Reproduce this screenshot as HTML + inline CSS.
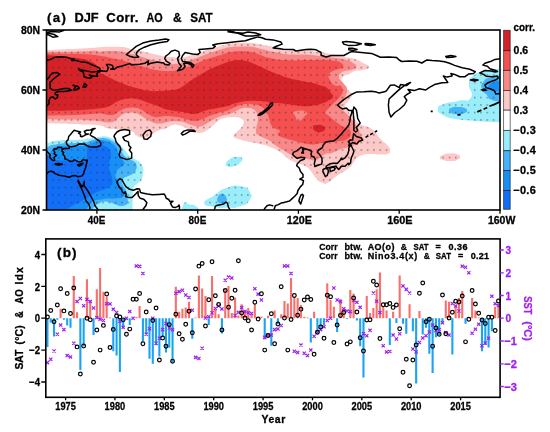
<!DOCTYPE html><html><head><meta charset="utf-8"><title>DJF Corr. AO &amp; SAT</title>
<style>html,body{margin:0;padding:0;background:#fff}svg{display:block}text{font-family:"Liberation Sans",sans-serif;font-weight:bold;stroke:#000;stroke-width:.3px}.p{fill:#A020F0;stroke:#A020F0}</style></head><body>
<svg width="550" height="432" viewBox="0 0 550 432">
<rect width="550" height="432" fill="#fff"/>
<defs>
<clipPath id="mapclip"><rect x="46.5" y="30.0" width="453.5" height="180.0"/></clipPath>
<clipPath id="sigclip"><path d="M28.0,50.2C33.3,25.8 30.0,50.6 44.0,50.2C58.0,49.8 54.7,49.7 70.0,49.0C85.3,48.3 80.0,48.6 90.0,48.0C100.0,47.4 93.0,47.6 100.0,47.2C107.0,46.8 103.7,46.8 111.0,46.8C118.3,46.8 116.4,46.7 121.8,47.1C127.2,47.5 123.7,47.2 127.3,47.9C130.9,48.6 129.1,48.5 132.7,49.3C136.3,50.1 134.6,49.7 138.2,50.4C141.8,51.1 140.0,50.7 143.6,51.5C147.2,52.3 145.4,52.0 149.0,52.9C152.6,53.8 150.8,53.3 154.5,54.2C158.2,55.1 156.7,54.8 160.0,55.5C163.3,56.2 160.7,55.9 164.4,56.4C168.1,56.9 167.0,56.6 171.0,56.9C175.0,57.2 172.8,57.2 176.4,57.4C180.0,57.6 178.2,57.7 181.8,57.4C185.4,57.1 183.7,57.3 187.3,56.4C190.9,55.5 189.1,55.9 192.7,54.7C196.3,53.5 194.6,54.2 198.2,52.9C201.8,51.6 200.0,52.1 203.6,50.9C207.2,49.7 205.4,50.3 209.0,49.3C212.6,48.3 210.8,48.9 214.5,47.9C218.2,46.9 216.3,47.4 220.0,46.3C223.7,45.2 221.8,45.6 225.5,44.7C229.2,43.8 227.4,44.1 231.0,43.6C234.6,43.1 232.8,43.4 236.4,43.1C240.0,42.8 238.2,42.9 241.8,42.8C245.4,42.7 243.7,42.7 247.3,42.8C250.9,42.9 249.1,42.7 252.7,43.1C256.3,43.5 254.6,43.3 258.2,43.9C261.8,44.5 260.0,44.2 263.6,44.9C267.2,45.6 265.4,45.3 269.0,46.0C272.6,46.7 270.8,46.3 274.5,46.9C278.2,47.5 276.5,47.0 280.0,47.9C283.5,48.8 280.0,48.9 285.0,49.6C290.0,50.3 288.3,49.9 295.0,50.0C301.7,50.1 298.3,49.5 305.0,50.0C311.7,50.5 308.3,50.6 315.0,51.6C321.7,52.6 318.3,51.9 325.0,53.0C331.7,54.1 328.3,53.7 335.0,55.0C341.7,56.3 338.3,55.7 345.0,57.0C351.7,58.3 349.0,57.0 355.0,59.0C361.0,61.0 358.3,60.3 363.0,63.0C367.7,65.7 369.0,64.7 369.0,67.0C369.0,69.3 367.7,68.7 363.0,70.0C358.3,71.3 359.7,69.7 355.0,71.0C350.3,72.3 353.0,72.0 349.0,74.0C345.0,76.0 345.3,74.3 343.0,77.0C340.7,79.7 341.3,78.7 342.0,82.0C342.7,85.3 342.7,84.0 345.0,87.0C347.3,90.0 346.7,88.3 349.0,91.0C351.3,93.7 352.0,92.0 352.0,95.0C352.0,98.0 351.3,96.3 349.0,100.0C346.7,103.7 345.7,102.7 345.0,106.0C344.3,109.3 344.7,106.7 347.0,110.0C349.3,113.3 348.7,112.0 352.0,116.0C355.3,120.0 353.3,118.8 357.0,122.0C360.7,125.2 359.0,123.7 363.0,125.5C367.0,127.3 365.0,125.3 369.0,127.5C373.0,129.7 371.2,128.2 375.0,132.0C378.8,135.8 376.2,134.3 380.5,139.0C384.8,143.7 384.8,142.0 388.0,146.0C391.2,150.0 390.3,148.3 390.0,151.0C389.7,153.7 390.7,152.9 387.0,154.0C383.3,155.1 384.3,154.4 379.0,154.4C373.7,154.4 376.3,153.8 371.0,154.0C365.7,154.2 367.7,153.7 363.0,155.0C358.3,156.3 360.3,155.3 357.0,158.0C353.7,160.7 355.7,159.7 353.0,163.0C350.3,166.3 354.0,164.0 349.0,168.0C344.0,172.0 345.0,170.2 338.0,175.0C331.0,179.8 333.3,179.9 328.0,182.4C322.7,184.9 326.0,183.9 322.0,182.4C318.0,180.9 320.0,182.1 316.0,178.0C312.0,173.9 313.7,174.0 310.0,170.0C306.3,166.0 308.3,168.0 305.0,166.0C301.7,164.0 304.3,165.7 300.0,164.0C295.7,162.3 296.7,163.3 292.0,161.0C287.3,158.7 290.0,160.0 286.0,157.0C282.0,154.0 285.3,155.3 280.0,152.0C274.7,148.7 276.7,149.7 270.0,147.0C263.3,144.3 266.7,145.7 260.0,144.0C253.3,142.3 256.7,143.5 250.0,142.0C243.3,140.5 245.3,141.2 240.0,139.5C234.7,137.8 235.9,138.6 234.0,137.0C232.1,135.4 233.1,136.6 234.2,134.7C235.3,132.8 235.0,133.8 237.4,131.4C239.8,129.0 239.3,130.1 241.3,127.6C243.3,125.1 242.7,126.2 243.4,123.8C244.1,121.4 244.3,122.3 243.4,120.5C242.5,118.7 243.0,119.5 240.7,118.4C238.4,117.3 239.6,117.7 236.4,117.3C233.2,116.9 234.6,117.1 231.0,117.3C227.4,117.5 229.2,117.1 225.5,117.8C221.8,118.5 222.6,118.3 220.0,119.5C217.4,120.7 219.6,119.8 217.8,121.3C216.0,122.8 217.0,121.8 214.5,124.0C212.0,126.2 213.1,125.5 210.2,127.8C207.3,130.1 208.7,129.4 205.8,131.0C202.9,132.6 204.3,132.1 201.4,132.7C198.5,133.3 199.9,133.3 197.0,132.7C194.1,132.1 195.9,132.4 192.7,131.0C189.5,129.6 190.9,130.0 187.3,128.4C183.7,126.8 185.1,127.3 181.8,126.2C178.5,125.1 180.3,125.4 177.4,125.0C174.5,124.6 175.9,124.4 173.0,125.0C170.1,125.6 171.6,125.4 168.7,126.7C165.8,128.0 167.3,128.0 164.4,129.0C161.5,130.0 163.3,128.6 160.0,129.8C156.7,131.0 157.4,131.0 154.5,132.7C151.6,134.4 153.8,133.6 151.3,135.0C148.8,136.4 149.9,136.1 147.0,137.0C144.1,137.9 145.1,137.8 142.5,137.8C139.9,137.8 141.5,137.9 139.3,137.0C137.1,136.1 138.2,136.7 136.0,135.0C133.8,133.3 135.7,133.4 132.7,131.8C129.7,130.2 130.6,131.0 127.0,130.3C123.4,129.6 125.3,130.1 121.8,129.8C118.3,129.5 120.0,129.6 116.4,129.3C112.8,129.0 114.6,129.3 111.0,128.8C107.4,128.3 109.2,128.8 105.5,127.7C101.8,126.6 106.8,126.5 100.0,125.5C93.2,124.5 95.0,125.1 85.0,124.6C75.0,124.1 80.0,124.4 70.0,124.0C60.0,123.6 63.7,123.7 55.0,123.5C46.3,123.3 53.0,123.4 44.0,123.3C35.0,123.2 33.3,147.7 28.0,123.3C22.7,98.9 22.7,74.6 28.0,50.2Z"/><path d="M440.0,157.5C440.3,155.7 440.7,155.8 444.0,154.5C447.3,153.2 446.0,153.7 450.0,153.5C454.0,153.3 452.7,153.0 456.0,154.0C459.3,155.0 459.7,154.5 460.0,156.5C460.3,158.5 460.3,158.5 457.0,160.0C453.7,161.5 454.7,161.0 450.0,161.0C445.3,161.0 446.3,161.2 443.0,160.0C439.7,158.8 439.7,159.3 440.0,157.5Z"/><path d="M28.0,143.5C33.3,116.0 37.5,143.6 44.0,143.5C50.5,143.4 45.3,143.8 47.6,143.2C49.9,142.6 48.2,142.5 51.0,141.7C53.8,140.9 52.3,141.2 56.0,140.7C59.7,140.2 56.3,140.5 62.0,140.2C67.7,139.9 65.7,140.2 73.0,139.9C80.3,139.6 78.3,139.8 84.0,139.4C89.7,139.0 86.3,139.1 90.0,138.6C93.7,138.1 91.5,138.4 95.0,137.8C98.5,137.2 96.8,137.1 100.5,136.7C104.2,136.3 102.4,136.1 106.0,136.6C109.6,137.1 107.8,136.7 111.4,138.3C115.0,139.9 113.2,138.6 116.8,141.5C120.4,144.4 119.0,143.4 122.3,147.0C125.6,150.6 123.7,149.1 126.6,152.4C129.5,155.7 127.7,154.3 131.0,156.8C134.3,159.3 133.1,157.8 136.4,160.0C139.7,162.2 138.6,160.8 140.8,163.4C143.0,166.0 142.3,164.4 143.0,167.7C143.7,171.0 143.4,169.6 143.0,173.2C142.6,176.8 142.6,176.0 141.9,178.6C141.2,181.2 142.3,179.4 140.8,181.0C139.3,182.6 139.7,181.7 137.5,183.5C135.3,185.3 135.8,184.3 134.3,186.5C132.8,188.7 133.6,185.5 133.0,190.0C132.4,194.5 132.7,192.7 132.6,200.0C132.5,207.3 132.4,203.3 132.8,212.0C133.2,220.7 168.7,221.3 133.8,226.0C98.9,230.7 63.3,253.5 28.0,226.0C-7.3,198.5 22.7,171.0 28.0,143.5Z"/><path d="M226.0,164.0C226.7,161.5 226.7,161.3 230.0,159.0C233.3,156.7 232.0,157.3 236.0,157.0C240.0,156.7 240.7,156.0 242.0,158.0C243.3,160.0 242.7,160.3 240.0,163.0C237.3,165.7 238.0,164.9 234.0,166.0C230.0,167.1 230.7,167.1 228.0,166.4C225.3,165.7 225.3,166.5 226.0,164.0Z"/><path d="M204.5,203.0C204.5,199.1 207.0,200.3 214.5,195.2C222.0,190.2 217.8,190.7 227.0,187.8C236.2,184.8 234.5,185.2 242.0,186.5C249.5,187.8 247.0,186.9 249.5,191.5C252.0,196.1 252.8,195.2 249.5,200.2C246.2,205.2 247.0,204.0 239.5,206.5C232.0,209.0 235.3,207.6 227.0,207.8C218.7,207.9 222.0,208.6 214.5,207.0C207.0,205.4 204.5,206.9 204.5,203.0Z"/><path d="M179.0,212.0C172.3,212.0 178.7,228.2 180.0,226.0C181.3,223.8 179.7,212.7 183.0,205.5C186.3,198.3 185.3,204.0 190.0,204.5C194.7,205.0 194.0,204.5 197.0,207.0C200.0,209.5 198.0,205.7 199.0,212.0C200.0,218.3 206.7,226.0 200.0,226.0C193.3,226.0 185.7,212.0 179.0,212.0Z"/><path d="M516.0,68.7C511.3,50.8 512.2,67.9 502.0,68.7C491.8,69.5 495.2,68.6 485.5,71.0C475.8,73.4 478.5,71.7 473.0,76.0C467.5,80.3 469.7,76.8 469.0,84.0C468.3,91.2 474.7,91.8 471.0,97.5C467.3,103.2 467.0,98.8 458.0,101.0C449.0,103.2 450.7,101.3 444.0,104.0C437.3,106.7 438.3,105.3 438.0,109.0C437.7,112.7 437.2,111.7 443.0,115.0C448.8,118.3 444.7,117.0 455.5,119.0C466.3,121.0 460.0,119.8 475.5,121.0C491.0,122.2 488.5,122.0 502.0,122.5C515.5,123.0 511.3,140.4 516.0,122.5C520.7,104.6 520.7,86.6 516.0,68.7Z"/></clipPath>
<pattern id="dots" x="45.600" y="29.250" width="6.2986" height="7.5000" patternUnits="userSpaceOnUse"><rect x="0" y="0" width="1.5" height="1.5" fill="#2a2a2a" fill-opacity="0.5"/></pattern>
</defs>
<g clip-path="url(#mapclip)">
<path d="M28.0,50.2C33.3,25.8 30.0,50.6 44.0,50.2C58.0,49.8 54.7,49.7 70.0,49.0C85.3,48.3 80.0,48.6 90.0,48.0C100.0,47.4 93.0,47.6 100.0,47.2C107.0,46.8 103.7,46.8 111.0,46.8C118.3,46.8 116.4,46.7 121.8,47.1C127.2,47.5 123.7,47.2 127.3,47.9C130.9,48.6 129.1,48.5 132.7,49.3C136.3,50.1 134.6,49.7 138.2,50.4C141.8,51.1 140.0,50.7 143.6,51.5C147.2,52.3 145.4,52.0 149.0,52.9C152.6,53.8 150.8,53.3 154.5,54.2C158.2,55.1 156.7,54.8 160.0,55.5C163.3,56.2 160.7,55.9 164.4,56.4C168.1,56.9 167.0,56.6 171.0,56.9C175.0,57.2 172.8,57.2 176.4,57.4C180.0,57.6 178.2,57.7 181.8,57.4C185.4,57.1 183.7,57.3 187.3,56.4C190.9,55.5 189.1,55.9 192.7,54.7C196.3,53.5 194.6,54.2 198.2,52.9C201.8,51.6 200.0,52.1 203.6,50.9C207.2,49.7 205.4,50.3 209.0,49.3C212.6,48.3 210.8,48.9 214.5,47.9C218.2,46.9 216.3,47.4 220.0,46.3C223.7,45.2 221.8,45.6 225.5,44.7C229.2,43.8 227.4,44.1 231.0,43.6C234.6,43.1 232.8,43.4 236.4,43.1C240.0,42.8 238.2,42.9 241.8,42.8C245.4,42.7 243.7,42.7 247.3,42.8C250.9,42.9 249.1,42.7 252.7,43.1C256.3,43.5 254.6,43.3 258.2,43.9C261.8,44.5 260.0,44.2 263.6,44.9C267.2,45.6 265.4,45.3 269.0,46.0C272.6,46.7 270.8,46.3 274.5,46.9C278.2,47.5 276.5,47.0 280.0,47.9C283.5,48.8 280.0,48.9 285.0,49.6C290.0,50.3 288.3,49.9 295.0,50.0C301.7,50.1 298.3,49.5 305.0,50.0C311.7,50.5 308.3,50.6 315.0,51.6C321.7,52.6 318.3,51.9 325.0,53.0C331.7,54.1 328.3,53.7 335.0,55.0C341.7,56.3 338.3,55.7 345.0,57.0C351.7,58.3 349.0,57.0 355.0,59.0C361.0,61.0 358.3,60.3 363.0,63.0C367.7,65.7 369.0,64.7 369.0,67.0C369.0,69.3 367.7,68.7 363.0,70.0C358.3,71.3 359.7,69.7 355.0,71.0C350.3,72.3 353.0,72.0 349.0,74.0C345.0,76.0 345.3,74.3 343.0,77.0C340.7,79.7 341.3,78.7 342.0,82.0C342.7,85.3 342.7,84.0 345.0,87.0C347.3,90.0 346.7,88.3 349.0,91.0C351.3,93.7 352.0,92.0 352.0,95.0C352.0,98.0 351.3,96.3 349.0,100.0C346.7,103.7 345.7,102.7 345.0,106.0C344.3,109.3 344.7,106.7 347.0,110.0C349.3,113.3 348.7,112.0 352.0,116.0C355.3,120.0 353.3,118.8 357.0,122.0C360.7,125.2 359.0,123.7 363.0,125.5C367.0,127.3 365.0,125.3 369.0,127.5C373.0,129.7 371.2,128.2 375.0,132.0C378.8,135.8 376.2,134.3 380.5,139.0C384.8,143.7 384.8,142.0 388.0,146.0C391.2,150.0 390.3,148.3 390.0,151.0C389.7,153.7 390.7,152.9 387.0,154.0C383.3,155.1 384.3,154.4 379.0,154.4C373.7,154.4 376.3,153.8 371.0,154.0C365.7,154.2 367.7,153.7 363.0,155.0C358.3,156.3 360.3,155.3 357.0,158.0C353.7,160.7 355.7,159.7 353.0,163.0C350.3,166.3 354.0,164.0 349.0,168.0C344.0,172.0 345.0,170.2 338.0,175.0C331.0,179.8 333.3,179.9 328.0,182.4C322.7,184.9 326.0,183.9 322.0,182.4C318.0,180.9 320.0,182.1 316.0,178.0C312.0,173.9 313.7,174.0 310.0,170.0C306.3,166.0 308.3,168.0 305.0,166.0C301.7,164.0 304.3,165.7 300.0,164.0C295.7,162.3 296.7,163.3 292.0,161.0C287.3,158.7 290.0,160.0 286.0,157.0C282.0,154.0 285.3,155.3 280.0,152.0C274.7,148.7 276.7,149.7 270.0,147.0C263.3,144.3 266.7,145.7 260.0,144.0C253.3,142.3 256.7,143.5 250.0,142.0C243.3,140.5 245.3,141.2 240.0,139.5C234.7,137.8 235.9,138.6 234.0,137.0C232.1,135.4 233.1,136.6 234.2,134.7C235.3,132.8 235.0,133.8 237.4,131.4C239.8,129.0 239.3,130.1 241.3,127.6C243.3,125.1 242.7,126.2 243.4,123.8C244.1,121.4 244.3,122.3 243.4,120.5C242.5,118.7 243.0,119.5 240.7,118.4C238.4,117.3 239.6,117.7 236.4,117.3C233.2,116.9 234.6,117.1 231.0,117.3C227.4,117.5 229.2,117.1 225.5,117.8C221.8,118.5 222.6,118.3 220.0,119.5C217.4,120.7 219.6,119.8 217.8,121.3C216.0,122.8 217.0,121.8 214.5,124.0C212.0,126.2 213.1,125.5 210.2,127.8C207.3,130.1 208.7,129.4 205.8,131.0C202.9,132.6 204.3,132.1 201.4,132.7C198.5,133.3 199.9,133.3 197.0,132.7C194.1,132.1 195.9,132.4 192.7,131.0C189.5,129.6 190.9,130.0 187.3,128.4C183.7,126.8 185.1,127.3 181.8,126.2C178.5,125.1 180.3,125.4 177.4,125.0C174.5,124.6 175.9,124.4 173.0,125.0C170.1,125.6 171.6,125.4 168.7,126.7C165.8,128.0 167.3,128.0 164.4,129.0C161.5,130.0 163.3,128.6 160.0,129.8C156.7,131.0 157.4,131.0 154.5,132.7C151.6,134.4 153.8,133.6 151.3,135.0C148.8,136.4 149.9,136.1 147.0,137.0C144.1,137.9 145.1,137.8 142.5,137.8C139.9,137.8 141.5,137.9 139.3,137.0C137.1,136.1 138.2,136.7 136.0,135.0C133.8,133.3 135.7,133.4 132.7,131.8C129.7,130.2 130.6,131.0 127.0,130.3C123.4,129.6 125.3,130.1 121.8,129.8C118.3,129.5 120.0,129.6 116.4,129.3C112.8,129.0 114.6,129.3 111.0,128.8C107.4,128.3 109.2,128.8 105.5,127.7C101.8,126.6 106.8,126.5 100.0,125.5C93.2,124.5 95.0,125.1 85.0,124.6C75.0,124.1 80.0,124.4 70.0,124.0C60.0,123.6 63.7,123.7 55.0,123.5C46.3,123.3 53.0,123.4 44.0,123.3C35.0,123.2 33.3,147.7 28.0,123.3C22.7,98.9 22.7,74.6 28.0,50.2Z" fill="#FDC8C8"/>
<path d="M440.0,157.5C440.3,155.7 440.7,155.8 444.0,154.5C447.3,153.2 446.0,153.7 450.0,153.5C454.0,153.3 452.7,153.0 456.0,154.0C459.3,155.0 459.7,154.5 460.0,156.5C460.3,158.5 460.3,158.5 457.0,160.0C453.7,161.5 454.7,161.0 450.0,161.0C445.3,161.0 446.3,161.2 443.0,160.0C439.7,158.8 439.7,159.3 440.0,157.5Z" fill="#FDC8C8"/>
<path d="M28.0,51.9C33.3,29.4 31.7,51.9 44.0,51.9C56.3,51.9 52.3,51.9 65.0,51.8C77.7,51.7 72.0,51.9 82.0,51.6C92.0,51.3 89.0,50.8 95.0,50.8C101.0,50.8 94.7,51.4 100.0,51.5C105.3,51.6 103.7,51.0 111.0,51.1C118.3,51.2 116.4,51.2 121.8,51.8C127.2,52.4 123.7,52.1 127.3,52.9C130.9,53.7 129.1,53.2 132.7,54.2C136.3,55.2 134.6,54.7 138.2,55.8C141.8,56.9 140.0,56.3 143.6,57.4C147.2,58.5 145.4,58.1 149.0,59.1C152.6,60.1 150.8,59.7 154.5,60.5C158.2,61.3 156.3,60.6 160.0,61.4C163.7,62.2 161.8,62.1 165.5,62.9C169.2,63.7 167.4,63.5 171.0,63.8C174.6,64.1 172.8,64.1 176.4,63.8C180.0,63.5 178.2,63.7 181.8,62.9C185.4,62.1 183.7,62.5 187.3,61.3C190.9,60.1 189.1,60.7 192.7,59.4C196.3,58.1 194.6,58.8 198.2,57.4C201.8,56.0 200.0,56.7 203.6,55.3C207.2,53.9 205.4,54.6 209.0,53.3C212.6,52.0 210.8,52.7 214.5,51.5C218.2,50.3 216.3,50.8 220.0,49.7C223.7,48.6 221.8,49.1 225.5,48.2C229.2,47.3 227.4,47.6 231.0,47.1C234.6,46.6 232.8,46.9 236.4,46.7C240.0,46.5 238.2,46.4 241.8,46.4C245.4,46.4 243.7,46.4 247.3,46.6C250.9,46.8 249.1,46.6 252.7,47.1C256.3,47.6 254.6,47.4 258.2,48.2C261.8,49.0 260.0,48.7 263.6,49.6C267.2,50.5 265.4,50.2 269.0,51.0C272.6,51.8 270.8,51.5 274.5,52.1C278.2,52.7 276.5,52.3 280.0,52.9C283.5,53.5 280.0,53.4 285.0,54.0C290.0,54.6 288.3,54.4 295.0,54.6C301.7,54.8 298.3,54.3 305.0,54.6C311.7,54.9 308.3,54.7 315.0,55.4C321.7,56.1 318.3,55.7 325.0,56.6C331.7,57.5 328.3,57.0 335.0,58.0C341.7,59.0 339.0,57.9 345.0,59.6C351.0,61.3 349.3,60.5 353.0,63.0C356.7,65.5 356.7,64.7 356.0,67.0C355.3,69.3 354.7,68.7 351.0,70.0C347.3,71.3 348.3,70.0 345.0,71.0C341.7,72.0 343.0,71.0 341.0,73.0C339.0,75.0 339.0,74.3 339.0,77.0C339.0,79.7 339.3,78.7 341.0,81.0C342.7,83.3 342.0,81.3 344.0,84.0C346.0,86.7 346.3,85.3 347.0,89.0C347.7,92.7 347.3,91.3 346.0,95.0C344.7,98.7 344.8,96.9 343.0,100.0C341.2,103.1 341.2,101.5 340.7,104.4C340.2,107.3 340.2,106.2 341.6,108.7C343.0,111.2 342.7,109.8 344.9,112.0C347.1,114.2 346.0,113.1 348.2,115.3C350.4,117.5 349.6,116.3 351.4,118.5C353.2,120.7 352.1,119.6 353.6,121.8C355.1,124.0 354.3,122.7 355.8,125.0C357.3,127.3 356.6,126.1 358.0,128.6C359.4,131.1 358.8,129.9 360.0,132.5C361.2,135.1 360.7,133.8 361.5,136.5C362.3,139.2 363.8,138.2 362.5,140.5C361.2,142.8 361.1,141.6 357.5,143.5C353.9,145.4 355.5,144.8 351.8,146.2C348.1,147.6 350.0,146.9 346.4,147.8C342.8,148.7 344.5,147.7 340.9,149.0C337.3,150.3 339.1,150.1 335.5,151.6C331.9,153.1 333.3,152.7 330.0,153.5C326.7,154.3 329.3,152.3 325.6,154.0C321.9,155.7 322.9,156.3 319.0,158.5C315.1,160.7 317.3,160.2 314.0,160.5C310.7,160.8 312.8,160.0 309.0,159.3C305.2,158.6 307.0,158.9 302.7,158.3C298.4,157.7 300.4,158.9 296.0,157.5C291.6,156.1 293.9,156.5 289.6,154.0C285.3,151.5 287.4,152.7 283.0,150.0C278.6,147.3 280.8,149.0 276.5,146.0C272.2,143.0 274.8,144.0 270.0,141.0C265.2,138.0 266.2,139.2 262.0,137.0C257.8,134.8 259.5,136.4 257.5,134.5C255.5,132.6 256.3,133.9 256.0,131.4C255.7,128.9 256.0,130.3 256.5,127.0C257.0,123.7 257.2,125.2 257.6,121.6C258.0,118.0 258.1,119.5 257.6,116.2C257.1,112.9 257.6,114.2 256.0,111.8C254.4,109.4 255.6,110.3 252.7,109.0C249.8,107.7 250.9,108.2 247.3,108.0C243.7,107.8 245.4,107.6 241.8,108.5C238.2,109.4 240.0,109.1 236.4,110.7C232.8,112.3 234.6,112.0 231.0,113.4C227.4,114.8 229.2,114.0 225.5,115.0C221.8,116.0 223.7,115.2 220.0,116.5C216.3,117.8 217.8,117.4 214.5,119.0C211.2,120.6 213.1,119.6 210.2,121.3C207.3,123.0 208.7,122.4 205.8,124.0C202.9,125.6 204.3,125.3 201.4,126.2C198.5,127.1 199.9,126.9 197.0,126.7C194.1,126.5 195.9,126.7 192.7,125.6C189.5,124.5 190.9,124.7 187.3,123.4C183.7,122.1 185.4,122.5 181.8,121.8C178.2,121.1 180.0,121.5 176.4,121.3C172.8,121.1 174.6,120.9 171.0,121.3C167.4,121.7 169.2,121.6 165.5,122.4C161.8,123.2 163.7,123.4 160.0,123.6C156.3,123.8 158.2,123.9 154.5,122.9C150.8,121.9 152.3,122.3 149.0,120.6C145.7,118.9 147.6,119.7 144.7,117.9C141.8,116.1 143.5,116.8 140.3,115.2C137.1,113.6 138.6,113.8 135.0,113.0C131.4,112.2 133.1,112.4 129.4,112.7C125.7,113.0 127.3,112.4 124.0,113.8C120.7,115.2 122.5,114.6 119.6,116.8C116.7,119.0 118.2,118.6 115.3,120.4C112.4,122.2 114.3,121.7 111.0,122.3C107.7,122.9 109.2,122.7 105.5,122.3C101.8,121.9 106.8,121.9 100.0,121.2C93.2,120.5 95.0,120.7 85.0,120.2C75.0,119.7 80.0,119.9 70.0,119.6C60.0,119.3 63.7,119.5 55.0,119.4C46.3,119.3 53.0,119.4 44.0,119.4C35.0,119.4 33.3,141.9 28.0,119.4C22.7,96.9 22.7,74.4 28.0,51.9Z" fill="#F98888"/>
<path d="M28.0,53.6C33.3,33.0 31.7,53.5 44.0,53.6C56.3,53.7 51.3,53.6 65.0,53.8C78.7,54.0 73.3,53.6 85.0,54.3C96.7,55.0 91.3,54.6 100.0,55.8C108.7,57.0 103.7,56.5 111.0,58.0C118.3,59.5 116.4,58.9 121.8,60.2C127.2,61.5 123.7,60.7 127.3,61.8C130.9,62.9 129.1,62.2 132.7,63.4C136.3,64.6 134.6,64.1 138.2,65.3C141.8,66.5 140.0,65.9 143.6,67.0C147.2,68.1 145.4,67.7 149.0,68.6C152.6,69.5 150.8,69.1 154.5,69.7C158.2,70.3 156.3,70.0 160.0,70.5C163.7,71.0 161.8,70.9 165.5,71.1C169.2,71.3 167.4,71.4 171.0,71.1C174.6,70.8 172.8,71.0 176.4,70.3C180.0,69.6 178.2,70.0 181.8,68.9C185.4,67.8 183.7,68.3 187.3,67.0C190.9,65.7 189.1,66.3 192.7,64.9C196.3,63.5 194.6,64.2 198.2,62.7C201.8,61.2 200.0,61.9 203.6,60.5C207.2,59.1 205.4,59.7 209.0,58.5C212.6,57.3 210.8,58.0 214.5,56.9C218.2,55.8 216.3,56.4 220.0,55.3C223.7,54.2 221.8,54.6 225.5,53.5C229.2,52.4 227.4,52.8 231.0,52.1C234.6,51.4 232.8,51.8 236.4,51.5C240.0,51.2 238.2,51.3 241.8,51.3C245.4,51.3 243.7,51.1 247.3,51.5C250.9,51.9 249.1,51.6 252.7,52.4C256.3,53.2 254.6,52.7 258.2,54.0C261.8,55.3 260.0,54.9 263.6,56.2C267.2,57.5 265.4,56.8 269.0,57.8C272.6,58.8 270.8,58.4 274.5,59.1C278.2,59.8 276.5,59.7 280.0,60.0C283.5,60.3 280.0,59.9 285.0,60.0C290.0,60.1 288.3,60.4 295.0,60.4C301.7,60.4 298.3,60.1 305.0,60.0C311.7,59.9 308.3,60.0 315.0,60.0C321.7,60.0 318.3,59.7 325.0,60.0C331.7,60.3 329.7,60.0 335.0,61.0C340.3,62.0 338.3,61.0 341.0,63.0C343.7,65.0 343.7,65.0 343.0,67.0C342.3,69.0 342.3,67.7 339.0,69.0C335.7,70.3 336.3,69.0 333.0,71.0C329.7,73.0 330.0,72.0 329.0,75.0C328.0,78.0 328.7,77.0 330.0,80.0C331.3,83.0 330.7,82.0 333.0,84.0C335.3,86.0 334.5,85.5 337.0,86.0C339.5,86.5 338.6,83.8 340.4,85.5C342.2,87.2 342.3,87.7 342.5,91.0C342.7,94.3 342.7,92.4 341.0,95.3C339.3,98.2 340.0,96.9 337.5,99.6C335.0,102.3 336.2,100.9 333.5,103.5C330.8,106.1 331.9,105.0 329.5,107.5C327.1,110.0 327.6,109.3 326.3,111.0C325.0,112.7 325.3,111.5 325.5,112.7C325.7,113.9 325.6,113.3 327.0,114.5C328.4,115.7 327.3,114.5 329.6,116.4C331.9,118.3 331.1,117.9 334.0,120.2C336.9,122.5 335.5,121.4 338.4,123.4C341.3,125.4 339.8,124.5 342.7,126.2C345.6,127.9 344.7,127.4 347.0,128.6C349.3,129.8 348.4,127.9 349.6,129.8C350.8,131.7 351.1,131.5 350.7,134.2C350.3,136.9 350.7,136.0 348.5,138.0C346.3,140.0 347.1,139.2 344.2,140.2C341.3,141.2 342.7,140.5 339.8,140.9C336.9,141.3 339.4,141.0 335.5,141.5C331.6,142.0 333.5,141.6 328.0,142.3C322.5,143.0 324.7,142.8 319.0,143.5C313.3,144.2 316.3,144.6 311.0,144.4C305.7,144.2 308.3,144.1 303.0,143.0C297.7,141.9 300.7,142.5 295.0,141.0C289.3,139.5 291.7,140.8 286.0,138.6C280.3,136.4 280.0,137.0 278.0,134.5C276.0,132.0 281.2,133.1 280.0,131.0C278.8,128.9 277.4,130.2 274.5,128.2C271.6,126.2 272.9,127.6 271.3,125.0C269.7,122.4 270.7,123.8 269.6,120.5C268.5,117.2 269.3,118.3 268.0,115.0C266.7,111.7 267.6,113.2 265.8,110.7C264.0,108.2 265.0,109.2 262.5,107.4C260.0,105.6 261.5,106.4 258.2,105.3C254.9,104.2 256.3,104.6 252.7,104.2C249.1,103.8 250.9,103.8 247.3,104.0C243.7,104.2 245.4,103.9 241.8,104.7C238.2,105.5 240.0,105.0 236.4,106.4C232.8,107.8 234.6,107.4 231.0,109.0C227.4,110.6 229.2,110.1 225.5,111.3C221.8,112.5 222.9,111.8 220.0,112.6C217.1,113.4 219.6,112.7 216.7,113.6C213.8,114.5 214.9,114.0 211.3,115.3C207.7,116.6 209.1,116.0 205.8,117.4C202.5,118.8 204.3,118.5 201.4,119.6C198.5,120.7 199.9,120.3 197.0,120.7C194.1,121.1 195.9,121.1 192.7,120.7C189.5,120.3 190.9,120.5 187.3,119.6C183.7,118.7 185.4,118.9 181.8,118.0C178.2,117.1 180.0,117.5 176.4,117.0C172.8,116.5 174.6,116.7 171.0,116.4C167.4,116.1 169.2,115.9 165.5,116.0C161.8,116.1 163.7,116.5 160.0,116.8C156.3,117.1 158.2,117.6 154.5,116.9C150.8,116.2 152.3,116.3 149.0,114.6C145.7,112.9 147.6,113.7 144.7,111.9C141.8,110.1 143.5,110.7 140.3,109.3C137.1,107.9 138.6,108.3 135.0,107.8C131.4,107.3 133.1,107.4 129.4,107.8C125.7,108.2 127.3,107.8 124.0,108.9C120.7,110.0 122.5,109.4 119.6,111.1C116.7,112.8 118.2,112.8 115.3,114.1C112.4,115.4 114.3,114.8 111.0,115.0C107.7,115.2 109.2,115.1 105.5,114.6C101.8,114.1 106.8,113.6 100.0,113.6C93.2,113.6 95.0,114.0 85.0,114.5C75.0,115.0 80.0,114.9 70.0,115.2C60.0,115.5 63.7,115.3 55.0,115.4C46.3,115.5 53.0,115.4 44.0,115.4C35.0,115.4 33.3,136.0 28.0,115.4C22.7,94.8 22.7,74.2 28.0,53.6Z" fill="#F54F4F"/>
<path d="M294.5,111.6C298.0,110.1 303.0,110.1 306.0,112.0C309.0,113.9 306.0,114.5 303.5,117.4C301.0,120.3 301.3,120.9 298.6,120.6C295.9,120.3 296.8,119.5 295.4,116.5C294.0,113.5 291.0,113.1 294.5,111.6Z" fill="#F98888"/>
<path d="M28.0,55.3C33.3,36.8 32.7,54.9 44.0,55.3C55.3,55.7 52.2,55.7 61.8,56.4C71.4,57.1 65.4,56.5 72.7,57.4C80.0,58.3 77.8,57.7 83.6,59.0C89.4,60.3 86.4,59.8 90.0,61.3C93.6,62.8 92.0,61.5 94.5,63.4C97.0,65.3 95.7,64.1 97.5,67.0C99.3,69.9 97.3,69.4 100.0,72.2C102.7,75.0 101.8,73.4 105.5,75.4C109.2,77.4 107.4,76.4 111.0,78.2C114.6,80.0 112.8,79.3 116.4,80.9C120.0,82.5 118.2,81.5 121.8,83.0C125.4,84.5 123.7,84.0 127.3,85.3C130.9,86.6 128.5,85.8 132.7,87.0C136.9,88.2 134.6,87.7 140.0,89.0C145.4,90.3 142.7,90.1 149.0,90.8C155.3,91.5 152.3,91.2 159.0,91.0C165.7,90.8 163.3,90.8 169.0,90.3C174.7,89.8 171.7,90.6 176.0,89.5C180.3,88.4 178.0,89.2 181.8,87.0C185.6,84.8 183.7,85.6 187.3,83.0C190.9,80.4 189.1,81.6 192.7,79.3C196.3,77.0 194.6,78.2 198.2,76.0C201.8,73.8 200.0,74.8 203.6,72.7C207.2,70.6 205.4,71.5 209.0,69.7C212.6,67.9 210.8,68.9 214.5,67.3C218.2,65.7 216.3,66.5 220.0,65.0C223.7,63.5 221.8,64.0 225.5,62.7C229.2,61.4 227.4,61.9 231.0,61.1C234.6,60.3 232.8,60.5 236.4,60.2C240.0,59.9 238.2,59.8 241.8,60.2C245.4,60.6 243.7,60.3 247.3,61.3C250.9,62.3 249.1,61.8 252.7,63.3C256.3,64.8 254.6,64.1 258.2,65.7C261.8,67.3 260.0,66.5 263.6,68.2C267.2,69.9 265.4,69.1 269.0,70.7C272.6,72.3 270.8,71.5 274.5,72.9C278.2,74.3 276.3,73.6 280.0,75.0C283.7,76.4 281.8,75.9 285.5,77.1C289.2,78.3 287.4,77.8 291.0,78.7C294.6,79.6 292.8,79.1 296.4,79.8C300.0,80.5 298.2,80.2 301.8,80.9C305.4,81.6 303.7,81.3 307.3,82.0C310.9,82.7 309.1,82.2 312.7,83.1C316.3,84.0 314.6,83.6 318.2,84.7C321.8,85.8 320.7,85.2 323.6,86.3C326.5,87.4 324.5,85.8 327.0,88.0C329.5,90.2 329.0,90.0 331.0,93.0C333.0,96.0 333.9,94.5 333.0,97.0C332.1,99.5 332.1,98.3 328.4,100.5C324.7,102.7 326.9,101.9 321.8,103.6C316.7,105.3 318.4,104.7 313.0,105.6C307.6,106.5 309.8,106.1 305.5,106.2C301.2,106.3 303.5,106.1 300.0,105.8C296.5,105.5 298.3,105.6 295.0,105.2C291.7,104.8 295.0,105.2 290.0,104.6C285.0,104.0 285.2,103.9 280.0,103.3C274.8,102.7 278.2,103.3 274.5,102.9C270.8,102.5 272.6,102.7 269.0,102.2C265.4,101.7 267.2,101.9 263.6,101.5C260.0,101.1 261.8,101.3 258.2,101.0C254.6,100.7 256.3,100.7 252.7,100.7C249.1,100.7 250.9,100.6 247.3,101.0C243.7,101.4 245.4,101.1 241.8,101.8C238.2,102.5 240.0,102.0 236.4,103.0C232.8,104.0 234.6,103.6 231.0,104.7C227.4,105.8 229.2,105.5 225.5,106.4C221.8,107.3 222.9,106.9 220.0,107.5C217.1,108.1 219.6,107.6 216.7,108.2C213.8,108.8 214.9,108.6 211.3,109.3C207.7,110.0 209.1,109.5 205.8,110.4C202.5,111.3 204.3,110.9 201.4,112.0C198.5,113.1 199.9,112.9 197.0,113.6C194.1,114.3 195.9,114.2 192.7,114.0C189.5,113.8 190.9,113.7 187.3,113.0C183.7,112.3 185.4,112.6 181.8,112.0C178.2,111.4 180.0,111.7 176.4,111.2C172.8,110.7 174.6,111.0 171.0,110.4C167.4,109.8 169.2,110.4 165.5,109.3C161.8,108.2 163.7,108.5 160.0,107.0C156.3,105.5 158.2,106.0 154.5,104.7C150.8,103.4 152.6,104.3 149.0,103.0C145.4,101.7 147.2,102.1 143.6,100.9C140.0,99.7 141.8,100.1 138.2,99.3C134.6,98.5 136.3,98.7 132.7,98.5C129.1,98.3 130.9,98.3 127.3,98.7C123.7,99.1 125.4,98.7 121.8,99.8C118.2,100.9 120.0,100.2 116.4,102.0C112.8,103.8 114.6,103.5 111.0,105.3C107.4,107.1 109.2,106.4 105.5,107.4C101.8,108.4 106.8,107.5 100.0,108.3C93.2,109.1 95.0,109.1 85.0,109.8C75.0,110.5 80.0,110.2 70.0,110.5C60.0,110.8 63.7,110.6 55.0,110.7C46.3,110.8 53.0,110.8 44.0,110.8C35.0,110.8 33.3,129.3 28.0,110.8C22.7,92.3 22.7,73.8 28.0,55.3Z" fill="#D52228"/>
<path d="M313.0,127.0C313.3,124.8 313.7,125.3 317.0,125.0C320.3,124.7 320.3,124.7 323.0,126.0C325.7,127.3 325.7,127.0 325.0,129.0C324.3,131.0 324.0,131.1 321.0,132.0C318.0,132.9 318.7,133.3 316.0,131.6C313.3,129.9 312.7,129.2 313.0,127.0Z" fill="#D52228"/>
<path d="M28.0,143.5C33.3,116.0 37.5,143.6 44.0,143.5C50.5,143.4 45.3,143.8 47.6,143.2C49.9,142.6 48.2,142.5 51.0,141.7C53.8,140.9 52.3,141.2 56.0,140.7C59.7,140.2 56.3,140.5 62.0,140.2C67.7,139.9 65.7,140.2 73.0,139.9C80.3,139.6 78.3,139.8 84.0,139.4C89.7,139.0 86.3,139.1 90.0,138.6C93.7,138.1 91.5,138.4 95.0,137.8C98.5,137.2 96.8,137.1 100.5,136.7C104.2,136.3 102.4,136.1 106.0,136.6C109.6,137.1 107.8,136.7 111.4,138.3C115.0,139.9 113.2,138.6 116.8,141.5C120.4,144.4 119.0,143.4 122.3,147.0C125.6,150.6 123.7,149.1 126.6,152.4C129.5,155.7 127.7,154.3 131.0,156.8C134.3,159.3 133.1,157.8 136.4,160.0C139.7,162.2 138.6,160.8 140.8,163.4C143.0,166.0 142.3,164.4 143.0,167.7C143.7,171.0 143.4,169.6 143.0,173.2C142.6,176.8 142.6,176.0 141.9,178.6C141.2,181.2 142.3,179.4 140.8,181.0C139.3,182.6 139.7,181.7 137.5,183.5C135.3,185.3 135.8,184.3 134.3,186.5C132.8,188.7 133.6,185.5 133.0,190.0C132.4,194.5 132.7,192.7 132.6,200.0C132.5,207.3 132.4,203.3 132.8,212.0C133.2,220.7 168.7,221.3 133.8,226.0C98.9,230.7 63.3,253.5 28.0,226.0C-7.3,198.5 22.7,171.0 28.0,143.5Z" fill="#9AEEFC"/>
<path d="M28.0,147.0C33.3,120.7 37.5,147.0 44.0,147.0C50.5,147.0 45.3,147.6 47.6,147.0C49.9,146.4 48.2,146.1 51.0,145.3C53.8,144.5 52.3,145.1 56.0,144.5C59.7,143.9 56.3,143.9 62.0,143.5C67.7,143.1 65.7,143.6 73.0,143.3C80.3,143.0 78.3,143.4 84.0,142.6C89.7,141.8 86.3,142.0 90.0,141.0C93.7,140.0 91.5,140.5 95.0,139.6C98.5,138.7 96.8,138.7 100.5,138.3C104.2,137.9 102.4,137.8 106.0,138.5C109.6,139.2 107.8,138.6 111.4,140.5C115.0,142.4 113.9,141.8 116.8,144.3C119.7,146.8 118.2,145.3 120.0,148.0C121.8,150.7 120.5,149.5 122.3,152.4C124.1,155.3 122.9,154.4 125.5,156.8C128.1,159.2 127.1,157.9 130.0,159.5C132.9,161.1 132.2,159.9 134.3,161.7C136.4,163.5 135.9,162.2 136.4,165.0C136.9,167.8 137.0,167.2 135.9,170.0C134.8,172.8 135.9,171.3 133.2,173.4C130.5,175.5 131.0,174.6 127.7,176.3C124.4,178.0 125.3,176.6 123.4,178.5C121.5,180.4 122.0,179.5 122.0,182.0C122.0,184.5 122.2,183.3 123.5,186.0C124.8,188.7 124.7,187.0 126.0,190.0C127.3,193.0 126.9,191.7 127.5,195.0C128.1,198.3 127.6,197.3 127.7,200.0C127.8,202.7 128.4,201.3 127.7,203.0C127.0,204.7 127.7,204.0 125.5,205.0C123.3,206.0 124.3,206.1 121.0,206.0C117.7,205.9 119.3,205.8 115.7,204.6C112.1,203.4 114.3,203.5 110.3,202.5C106.3,201.5 107.1,201.5 103.7,201.7C100.3,201.9 102.7,201.7 100.0,203.0C97.3,204.3 98.0,203.7 95.6,205.7C93.2,207.7 94.1,206.9 92.9,209.0C91.7,211.1 92.0,206.3 92.0,212.0C92.0,217.7 114.3,221.3 93.0,226.0C71.7,230.7 49.7,252.3 28.0,226.0C6.3,199.7 22.7,173.3 28.0,147.0Z" fill="#46B2F8"/>
<path d="M28.0,154.2C33.3,130.3 37.7,154.1 44.0,154.2C50.3,154.3 45.2,155.0 47.0,154.6C48.8,154.2 47.8,154.5 49.5,153.0C51.2,151.5 50.2,151.8 52.0,150.0C53.8,148.2 53.0,148.6 55.0,147.5C57.0,146.4 55.7,147.0 58.0,146.6C60.3,146.2 57.0,146.4 62.0,146.3C67.0,146.2 65.7,146.5 73.0,146.3C80.3,146.1 79.0,146.3 84.0,145.8C89.0,145.3 85.3,145.7 88.0,144.8C90.7,143.9 89.7,144.1 92.0,143.0C94.3,141.9 92.2,142.3 95.0,141.5C97.8,140.7 96.8,140.7 100.5,140.5C104.2,140.3 102.4,140.1 106.0,141.0C109.6,141.9 108.2,141.2 111.4,143.2C114.6,145.2 113.5,144.3 115.7,147.0C117.9,149.7 116.5,148.1 117.9,151.4C119.3,154.7 118.2,153.5 120.0,156.8C121.8,160.1 122.1,158.7 123.4,161.2C124.7,163.7 125.0,162.2 123.9,164.4C122.8,166.6 122.4,165.5 120.0,167.7C117.6,169.9 118.3,168.5 116.8,171.0C115.3,173.5 115.6,172.8 115.5,175.3C115.4,177.8 115.5,176.5 116.5,178.5C117.5,180.5 117.2,178.9 118.4,181.2C119.6,183.5 118.5,183.0 120.0,185.5C121.5,188.0 121.3,186.2 122.8,188.8C124.3,191.4 124.2,190.7 124.4,193.2C124.6,195.7 125.2,194.8 123.4,196.4C121.6,198.0 122.3,197.3 119.0,198.0C115.7,198.7 117.2,198.4 113.5,198.6C109.8,198.8 112.0,198.3 108.0,198.6C104.0,198.9 106.0,198.8 101.5,199.5C97.0,200.2 98.3,199.3 94.5,200.8C90.7,202.3 92.7,201.3 90.2,204.0C87.7,206.7 88.3,206.3 86.9,209.0C85.5,211.7 86.0,206.3 86.0,212.0C86.0,217.7 106.3,221.3 87.0,226.0C67.7,230.7 47.7,249.9 28.0,226.0C8.3,202.1 22.7,178.1 28.0,154.2Z" fill="#1690F8"/>
<path d="M28.0,155.2C33.3,131.6 37.5,155.0 44.0,155.2C50.5,155.4 45.3,154.8 47.6,155.9C49.9,157.0 48.1,157.0 51.0,158.4C53.9,159.8 51.0,159.3 56.4,160.0C61.8,160.7 60.0,160.2 67.3,160.6C74.6,161.0 72.0,161.6 78.2,161.2C84.4,160.8 82.9,161.7 85.8,159.5C88.7,157.3 86.5,158.0 86.9,154.6C87.3,151.2 86.7,151.6 87.1,149.2C87.5,146.8 85.7,148.5 88.0,147.5C90.3,146.5 89.8,146.9 94.0,146.2C98.2,145.5 96.5,145.3 100.5,145.4C104.5,145.5 103.1,145.2 106.0,146.5C108.9,147.8 107.6,146.9 109.2,149.2C110.8,151.5 110.4,150.2 110.8,153.5C111.2,156.8 110.8,155.4 110.3,159.0C109.8,162.6 109.5,160.7 109.2,164.4C108.9,168.1 108.8,166.1 109.5,170.0C110.2,173.9 110.4,171.9 111.4,176.0C112.4,180.1 112.8,179.0 112.4,182.3C112.0,185.6 112.4,183.8 110.3,186.0C108.2,188.2 109.3,187.3 106.0,188.8C102.7,190.3 104.3,189.1 100.5,190.6C96.7,192.1 98.3,191.3 94.5,193.2C90.7,195.1 92.6,194.2 89.0,196.4C85.4,198.6 87.2,197.5 83.6,199.7C80.0,201.9 81.8,201.0 78.2,203.0C74.6,205.0 76.1,202.7 72.7,205.7C69.3,208.7 69.2,205.2 68.0,212.0C66.8,218.8 82.3,221.3 69.0,226.0C55.7,230.7 41.7,249.6 28.0,226.0C14.3,202.4 22.7,178.8 28.0,155.2Z" fill="#126EF7"/>
<path d="M226.0,164.0C226.7,161.5 226.7,161.3 230.0,159.0C233.3,156.7 232.0,157.3 236.0,157.0C240.0,156.7 240.7,156.0 242.0,158.0C243.3,160.0 242.7,160.3 240.0,163.0C237.3,165.7 238.0,164.9 234.0,166.0C230.0,167.1 230.7,167.1 228.0,166.4C225.3,165.7 225.3,166.5 226.0,164.0Z" fill="#9AEEFC"/>
<path d="M204.5,203.0C204.5,199.1 207.0,200.3 214.5,195.2C222.0,190.2 217.8,190.7 227.0,187.8C236.2,184.8 234.5,185.2 242.0,186.5C249.5,187.8 247.0,186.9 249.5,191.5C252.0,196.1 252.8,195.2 249.5,200.2C246.2,205.2 247.0,204.0 239.5,206.5C232.0,209.0 235.3,207.6 227.0,207.8C218.7,207.9 222.0,208.6 214.5,207.0C207.0,205.4 204.5,206.9 204.5,203.0Z" fill="#9AEEFC"/>
<path d="M217.5,201.5C216.0,198.8 219.0,193.5 222.0,193.5C225.0,193.5 228.0,198.8 226.5,201.5C225.0,204.2 219.0,204.2 217.5,201.5Z" fill="#46B2F8"/>
<path d="M179.0,212.0C172.3,212.0 178.7,228.2 180.0,226.0C181.3,223.8 179.7,212.7 183.0,205.5C186.3,198.3 185.3,204.0 190.0,204.5C194.7,205.0 194.0,204.5 197.0,207.0C200.0,209.5 198.0,205.7 199.0,212.0C200.0,218.3 206.7,226.0 200.0,226.0C193.3,226.0 185.7,212.0 179.0,212.0Z" fill="#9AEEFC"/>
<path d="M516.0,68.7C511.3,50.8 512.2,67.9 502.0,68.7C491.8,69.5 495.2,68.6 485.5,71.0C475.8,73.4 478.5,71.7 473.0,76.0C467.5,80.3 469.7,76.8 469.0,84.0C468.3,91.2 474.7,91.8 471.0,97.5C467.3,103.2 467.0,98.8 458.0,101.0C449.0,103.2 450.7,101.3 444.0,104.0C437.3,106.7 438.3,105.3 438.0,109.0C437.7,112.7 437.2,111.7 443.0,115.0C448.8,118.3 444.7,117.0 455.5,119.0C466.3,121.0 460.0,119.8 475.5,121.0C491.0,122.2 488.5,122.0 502.0,122.5C515.5,123.0 511.3,140.4 516.0,122.5C520.7,104.6 520.7,86.6 516.0,68.7Z" fill="#9AEEFC"/>
<path d="M516.0,76.0C511.3,67.7 510.5,75.5 502.0,76.0C493.5,76.5 496.5,75.8 490.5,77.5C484.5,79.2 486.9,77.2 484.0,81.0C481.1,84.8 480.8,84.1 481.8,88.8C482.7,93.4 483.4,91.2 486.8,95.0C490.1,98.8 486.7,98.0 491.8,100.0C496.8,102.0 493.9,100.7 502.0,101.0C510.1,101.3 511.3,109.3 516.0,101.0C520.7,92.7 520.7,84.3 516.0,76.0Z" fill="#46B2F8"/>
<path d="M449.0,110.5C449.0,108.6 449.0,108.8 452.0,107.6C455.0,106.4 454.0,106.9 458.0,107.0C462.0,107.1 461.0,106.6 464.0,107.8C467.0,109.0 467.0,108.7 467.0,110.5C467.0,112.3 467.0,112.1 464.0,113.3C461.0,114.5 462.0,114.0 458.0,114.0C454.0,114.0 455.0,114.5 452.0,113.3C449.0,112.1 449.0,112.4 449.0,110.5Z" fill="#46B2F8"/>
<path d="M516.0,81.0C511.3,77.6 509.7,80.5 502.0,81.0C494.3,81.5 497.5,80.8 493.0,82.5C488.5,84.2 489.7,83.7 488.5,86.0C487.3,88.3 487.2,87.7 489.5,89.5C491.8,91.3 491.3,90.7 495.5,91.3C499.7,91.9 495.2,91.3 502.0,91.3C508.8,91.3 511.3,94.7 516.0,91.3C520.7,87.9 520.7,84.4 516.0,81.0Z" fill="#1690F8"/>
<g clip-path="url(#sigclip)"><rect x="40" y="25" width="470" height="190" fill="url(#dots)"/></g>
<path d="M46.5,60.3L50.3,59.4L54.1,57.6L59.1,56.7L64.1,57.0L67.9,57.6L71.7,59.1L74.2,59.1L71.7,60.6L76.7,60.6L80.5,61.8L86.8,62.4L91.8,64.8L96.9,66.6L99.9,68.4L99.9,70.2L96.9,71.4L91.8,72.0L86.8,71.1L81.8,69.9L78.7,68.7L79.3,70.2L83.0,71.7L83.8,74.1L83.8,76.5L86.8,77.7L90.6,78.3L91.8,77.1L89.3,75.0L94.4,76.2L97.6,76.2L96.9,73.8L98.1,72.3L101.9,70.8L106.5,71.4L107.5,70.2L108.2,67.5L106.5,64.5L109.5,64.5L112.5,65.4L113.3,68.4L110.7,69.3L114.5,69.3L117.0,67.2L122.1,66.0L129.6,63.6L132.2,65.1L134.7,64.5L139.7,64.2L144.8,63.3L148.5,60.9L147.8,64.8L149.8,63.6L157.4,62.1L159.9,62.4L163.7,63.0L164.9,64.5L168.7,65.1L170.0,63.3L166.2,61.2L164.7,58.5L165.7,56.1L168.7,54.0L171.2,51.3L175.0,50.1L178.8,51.6L179.5,55.5L177.5,58.5L178.8,63.0L181.3,66.0L180.0,68.1L177.5,70.8L182.6,69.3L185.1,66.6L183.8,63.6L187.6,63.0L191.4,65.1L192.6,67.5L193.9,65.1L190.1,62.4L182.6,61.5L181.3,58.5L182.6,55.5L185.1,52.5L190.1,53.4L192.6,54.0L197.7,54.6L200.2,52.5L198.9,49.5L205.2,48.9L212.8,48.3L215.3,46.5L212.8,45.0L217.8,43.8L225.4,42.9L235.5,41.7L245.5,40.8L250.6,39.0L258.1,36.9L261.9,37.8L265.7,39.3L273.2,39.9L280.8,42.0L282.1,44.1L275.8,46.5L273.2,48.0L278.3,48.6L283.3,49.2L293.4,49.5L295.9,51.0L306.0,49.5L311.0,49.2L316.1,49.8L321.1,52.5L321.1,55.2L326.2,57.0L331.2,55.5L338.8,55.5L343.8,55.5L348.8,52.8L351.4,51.6L363.9,52.8L371.5,53.4L376.5,55.5L380.3,57.3L389.1,57.0L396.7,57.6L399.2,60.0L401.7,61.5L409.3,60.9L416.9,61.2L421.9,63.0L425.7,60.6L426.9,60.0L432.0,60.6L439.5,60.9L444.6,61.8L449.6,63.3L454.6,65.4L462.2,67.8L469.8,69.3L475.3,71.7L473.5,73.5L468.5,74.1L464.7,76.8L459.7,76.8L454.6,74.4L450.9,73.5L452.1,75.9L447.1,77.1L443.3,75.9L445.8,79.5L447.8,82.5L442.1,82.8L434.5,84.6L429.5,87.3L425.7,90.0L419.4,88.8L414.3,90.6L408.0,89.4L410.6,92.4L406.8,94.5L404.3,96.6L406.8,100.2L404.3,105.0L399.2,109.5L394.9,112.5L390.9,117.0L389.1,112.5L388.4,105.0L389.1,99.0L392.9,95.4L398.0,90.6L401.7,87.6L406.8,84.0L410.6,82.5L406.8,85.5L400.5,84.6L399.2,87.6L394.2,84.9L390.4,85.2L386.6,90.6L385.4,91.5L379.1,93.0L376.5,92.1L371.5,91.2L363.9,91.8L356.4,92.1L351.4,94.5L343.8,99.6L337.5,105.0L340.0,107.4L342.5,108.9L346.3,108.0L348.8,110.4L352.1,110.4L351.4,114.0L350.3,117.0L349.8,121.5L348.8,125.1L345.1,129.6L341.3,134.1L337.5,138.0L333.7,141.0L329.9,141.3L326.2,141.9L325.2,142.8L323.1,145.2L322.4,147.6L318.6,150.0L317.3,152.1L319.4,154.2L321.9,158.1L322.1,162.0L321.6,164.1L318.6,165.0L314.8,166.5L314.3,163.5L315.3,159.6L314.3,157.2L311.5,156.0L311.0,153.9L311.8,151.5L309.3,150.0L304.2,148.5L301.7,153.0L303.5,153.0L302.5,149.4L303.5,148.2L301.0,147.3L297.2,150.6L293.4,152.4L292.6,154.5L295.4,157.2L297.2,158.4L301.0,157.2L304.7,157.8L304.2,159.3L300.5,160.5L297.2,164.1L296.7,165.6L299.2,168.0L300.5,171.6L303.0,174.6L303.0,177.3L299.7,179.1L302.2,180.0L303.5,180.6L302.7,184.5L300.5,186.6L297.9,190.5L297.2,193.5L294.7,196.2L292.1,198.6L289.6,201.0L285.8,201.9L283.3,202.8L281.6,202.8L278.3,204.6L275.3,205.8L274.3,208.8L273.8,210.6M272.7,205.8L269.5,204.9L267.0,205.8L264.9,208.2L263.7,210.6M230.4,210.6L228.4,207.0L227.4,203.1L225.9,202.2L224.1,203.7L221.6,204.6L219.1,204.9L216.6,205.5L215.3,206.4L214.8,208.5L214.0,210.6M179.3,210.6L179.5,207.0L179.0,204.9L178.0,206.4L175.0,207.6L172.5,207.0L170.5,203.4L173.0,201.3L170.0,201.6L168.7,199.5L166.2,198.3L165.4,195.9L164.2,194.1L158.6,194.4L152.3,194.7L147.3,194.1L143.5,193.2L140.5,192.6L139.5,189.0L137.2,188.7L133.4,190.2L129.6,189.3L125.9,186.6L123.3,182.4L122.1,179.7L119.6,178.8L118.3,180.0L116.8,181.8L117.8,184.2L119.1,186.9L121.6,189.6L122.3,192.0L124.1,193.5L125.1,191.7L126.1,194.1L125.6,196.5L128.4,197.4L132.2,197.4L135.9,193.8L138.0,191.4L138.2,195.3L140.2,198.3L143.8,199.2L146.8,202.5L146.0,205.5L143.5,208.8L142.2,210.6M98.7,210.6L94.9,205.5L94.1,202.5L91.8,198.0L89.8,194.4L88.1,191.4L85.6,187.5L84.0,185.7L84.3,181.5L83.0,186.0L82.3,186.6L80.5,184.5L78.2,180.3L78.0,181.5L79.8,185.1L81.3,188.1L83.0,192.0L85.0,197.1L86.1,201.0L88.8,204.0L89.8,207.0L89.8,210.6M46.0,177.6L46.5,173.7L49.0,171.6L51.5,171.3L54.1,172.2L54.6,173.4L59.1,175.2L64.1,176.1L69.2,177.3L71.7,176.1L74.2,175.5L76.7,176.1L78.0,176.7L81.8,176.1L83.5,174.0L84.3,171.0L85.8,167.1L86.6,163.5L87.3,160.2L85.6,160.2L83.0,159.6L81.3,161.4L78.0,161.7L74.2,159.6L73.0,161.1L70.4,161.4L67.2,159.6L64.9,159.0L64.6,156.0L62.9,154.5L63.6,152.4L62.1,151.5L62.1,149.7L64.1,148.5L69.2,148.5L69.4,146.4L71.7,146.7L75.5,146.1L79.3,144.0L84.3,144.0L86.8,145.5L89.3,146.7L93.1,147.0L96.9,147.0L100.7,145.5L100.9,143.1L99.4,141.0L96.9,139.5L94.4,137.4L91.8,136.2L90.1,134.7L90.6,133.5L91.8,132.0L91.8,130.5L95.1,128.4L93.1,128.7L90.6,129.9L86.8,130.2L84.3,131.4L85.6,133.8L88.3,134.1L85.6,134.7L84.3,135.6L81.8,136.8L80.5,136.2L80.5,134.4L78.5,133.2L80.5,132.0L76.7,131.1L74.2,130.2L72.5,132.0L70.9,134.1L68.7,136.5L68.2,139.5L66.4,141.6L66.7,144.0L67.9,145.5L69.4,146.4M62.1,149.1L61.6,147.6L57.8,147.3L56.6,149.1L54.1,148.8L53.6,150.0L54.8,152.4L54.1,153.6L56.6,155.4L55.3,156.3L54.1,157.5L54.6,160.2L52.8,160.5L51.5,159.3L50.5,158.1L49.5,156.6L50.3,155.1L49.0,153.6L47.0,151.5L46.0,150.6M55.3,163.8L57.8,163.5L62.4,164.2L59.1,165.0L55.3,164.4L55.3,163.8M77.5,165.0L79.3,164.1L83.0,163.1L81.5,165.0L79.3,166.2L77.5,165.0M46.0,79.8L47.3,79.2L49.0,77.4L50.3,75.0L52.8,72.9L57.1,72.6L59.9,74.1L57.8,75.6L52.8,79.5L49.8,82.5L50.3,87.0L49.8,88.2L52.8,90.0L54.1,90.3L59.1,89.4L64.1,88.5L68.4,88.5L71.7,90.3L67.9,90.9L64.1,91.5L59.1,91.5L55.3,92.4L55.3,94.5L57.8,95.1L57.3,97.5L55.3,99.0L52.8,96.9L50.3,97.5L49.0,100.5L49.0,103.5L47.8,105.0L46.0,106.2M73.7,90.0L75.5,87.0L73.0,85.2L78.0,86.4L79.3,88.2L75.5,90.0L73.7,90.0M83.0,87.0L84.8,83.4L86.8,85.5L85.6,87.0L83.0,87.0M114.5,135.0L117.0,132.0L119.6,130.5L124.6,129.6L129.6,130.5L129.6,134.4L125.1,136.2L122.8,137.1L124.6,140.4L128.4,141.9L128.9,145.5L130.9,147.6L129.4,150.0L131.7,153.0L131.7,158.1L127.1,159.6L123.3,158.4L120.1,157.2L119.1,154.5L120.1,151.8L120.8,148.8L119.6,146.1L117.5,144.0L115.8,141.0L115.3,138.6L114.0,136.5L114.5,135.0M143.0,135.0L146.0,131.1L149.8,129.9L151.6,132.6L150.6,136.5L147.3,139.2L144.0,138.9L143.0,135.0M181.3,133.5L183.8,131.1L187.6,129.9L193.9,130.2L195.1,131.4L190.1,131.1L185.1,134.1L182.6,135.0L181.3,133.5M258.1,115.2L260.7,114.9L264.4,112.5L268.2,109.5L272.0,105.6L272.7,102.9L270.7,103.2L268.2,107.4L263.2,111.6L259.4,114.0L258.1,115.2M46.0,32.4L51.5,31.5L59.1,32.1L64.1,30.3L56.6,29.4L46.0,29.7M46.0,34.5L49.0,35.1L52.8,37.2L57.8,36.6L54.1,34.5L49.0,33.3L46.0,33.3M227.9,30.3L235.5,32.4L243.0,33.3L248.1,32.1L255.6,33.0L260.7,34.8L253.1,36.0L245.5,36.0L238.0,33.3L227.9,31.8M227.9,28.5L232.9,29.4L240.5,29.1M342.5,42.0L346.3,41.4L353.9,42.3L361.4,43.8L356.4,45.3L348.8,45.6L343.8,44.1L342.5,42.0M348.8,48.3L352.6,48.3L357.1,49.5L353.9,50.4L348.8,49.8L348.8,48.3M365.2,43.5L370.2,43.8L375.3,44.7L370.2,45.6L365.2,44.7L365.2,43.5M445.8,56.4L450.9,55.5L455.9,56.4L452.1,57.3L446.6,57.6L445.8,56.4M353.9,107.1L356.4,110.1L357.1,114.0L357.7,118.5L360.2,123.0L356.4,127.5L357.7,130.5L355.9,132.0L353.9,130.5L353.9,126.0L353.9,120.0L353.4,114.9L353.1,110.1L353.9,107.1M348.8,145.5L349.6,143.1L348.3,141.6L350.1,140.1L352.6,140.1L353.1,136.5L353.6,133.5L356.4,136.5L361.4,138.0L362.7,140.1L358.9,141.3L356.9,144.0L352.6,142.5L351.1,144.0L348.8,145.5M351.1,145.5L352.6,148.5L353.9,151.5L352.6,155.1L351.4,157.5L350.8,160.5L350.6,162.9L348.8,164.4L348.1,163.2L346.3,165.0L345.1,166.2L341.3,166.2L340.8,167.1L338.8,169.5L336.7,167.4L336.2,166.2L332.5,166.8L329.4,167.4L326.2,168.0L326.2,166.2L329.9,163.8L333.7,163.2L337.5,163.2L340.0,160.5L341.3,158.1L342.0,159.6L345.1,157.8L347.6,154.5L348.8,150.6L348.8,148.2L349.6,146.4L351.1,145.5M325.7,168.3L327.9,169.2L328.4,171.6L327.2,175.5L325.4,176.7L324.1,174.0L322.9,171.6L323.1,169.5L325.7,168.3M329.9,168.0L333.7,167.1L335.2,168.6L334.2,170.1L331.7,171.0L330.2,171.3L329.9,168.0M302.2,194.4L303.5,195.6L302.2,199.5L300.7,204.0L298.9,201.0L299.7,198.0L301.0,195.0L302.2,194.4M470.5,80.1L473.5,79.2L478.1,80.1L474.8,81.0L470.5,80.1M481.9,89.7L484.9,89.1L486.1,90.3L483.1,90.6L481.9,89.7M500.5,58.8L495.0,59.4L491.2,61.2L484.9,63.3L482.9,65.1L487.4,66.3L489.9,68.7L495.0,70.2L497.5,71.4L495.0,72.0L491.2,71.1L484.9,70.5L479.8,72.9L483.6,74.4L486.1,76.2L492.4,76.8L497.5,75.9L498.2,78.0L496.2,79.8L492.4,81.0L488.7,82.5L484.9,84.9L486.1,87.6L489.9,88.8L493.7,90.3L495.0,91.8L495.7,93.9L498.7,93.6L500.5,94.2M126.4,54.5L131.3,50.5L136.2,46.4L142.7,43.1L150.9,41.1L159.1,40.1L165.6,39.0L168.9,39.8L167.3,41.5L159.1,42.8L150.9,44.7L144.4,47.2L139.5,49.6L137.0,52.1L136.2,54.5L138.6,57.0L134.5,57.5L129.6,56.2L126.4,54.5" fill="none" stroke="#000" stroke-width="1.5" stroke-linejoin="round" stroke-linecap="round"/>
<path d="M365.5,137.4L377.1,130.8" fill="none" stroke="#000" stroke-width="1.6" stroke-dasharray="3.2 2.2" stroke-linecap="butt"/>
<path d="M430.7,111.3L432.7,111.3M457.4,114.9L460.7,114.6M477.3,111.9L481.4,110.1M483.6,109.2L487.2,107.4M489.4,106.2L495.0,104.1L500.8,101.4" fill="none" stroke="#000" stroke-width="1.7"/>
</g>
<rect x="46.5" y="30.0" width="453.5" height="180.0" fill="none" stroke="#000" stroke-width="1.6"/>
<path d="M42.5,30.0H46.5M42.5,90.0H46.5M42.5,150.0H46.5M42.5,210.0H46.5M96.9,210.0V213.8M197.7,210.0V213.8M298.4,210.0V213.8M399.2,210.0V213.8M500.0,210.0V213.8" stroke="#000" stroke-width="1.3" fill="none"/>
<text x="20.9" y="34.2" font-size="11.4" textLength="19.2" lengthAdjust="spacingAndGlyphs">80N</text>
<text x="20.9" y="94.2" font-size="11.4" textLength="19.2" lengthAdjust="spacingAndGlyphs">60N</text>
<text x="20.9" y="154.2" font-size="11.4" textLength="19.2" lengthAdjust="spacingAndGlyphs">40N</text>
<text x="20.9" y="214.2" font-size="11.4" textLength="19.2" lengthAdjust="spacingAndGlyphs">20N</text>
<text x="87.8" y="223.6" font-size="11.4" textLength="17.5" lengthAdjust="spacingAndGlyphs">40E</text>
<text x="188.6" y="223.6" font-size="11.4" textLength="17.7" lengthAdjust="spacingAndGlyphs">80E</text>
<text x="286.8" y="223.6" font-size="11.4" textLength="25.0" lengthAdjust="spacingAndGlyphs">120E</text>
<text x="387.2" y="223.6" font-size="11.4" textLength="25.3" lengthAdjust="spacingAndGlyphs">160E</text>
<text x="487.9" y="223.6" font-size="11.4" textLength="27.4" lengthAdjust="spacingAndGlyphs">160W</text>
<text x="46.9" y="22.3" font-size="13.2" textLength="19.0" lengthAdjust="spacing">(a)</text>
<text x="74.5" y="22.3" font-size="13.2" textLength="24.2" lengthAdjust="spacingAndGlyphs">DJF</text>
<text x="106.3" y="22.3" font-size="13.2" textLength="32.1" lengthAdjust="spacing">Corr.</text>
<text x="146.4" y="22.3" font-size="13.2" textLength="16.2" lengthAdjust="spacingAndGlyphs">AO</text>
<text x="173.0" y="22.3" font-size="13.2" textLength="8.6" lengthAdjust="spacingAndGlyphs">&amp;</text>
<text x="190.3" y="22.3" font-size="13.2" textLength="22.4" lengthAdjust="spacingAndGlyphs">SAT</text>
<rect x="503.6" y="30.3" width="6.6" height="20.4" fill="#D52228" stroke="#000" stroke-opacity="0.6" stroke-width="0.9"/>
<rect x="503.6" y="50.7" width="6.6" height="19.7" fill="#F54F4F" stroke="#000" stroke-opacity="0.6" stroke-width="0.9"/>
<rect x="503.6" y="70.4" width="6.6" height="20.1" fill="#F98888" stroke="#000" stroke-opacity="0.6" stroke-width="0.9"/>
<rect x="503.6" y="90.5" width="6.6" height="19.7" fill="#FDC8C8" stroke="#000" stroke-opacity="0.6" stroke-width="0.9"/>
<rect x="503.6" y="110.2" width="6.6" height="20.2" fill="#fff" stroke="#000" stroke-opacity="0.6" stroke-width="0.9"/>
<rect x="503.6" y="130.4" width="6.6" height="20.3" fill="#9AEEFC" stroke="#000" stroke-opacity="0.6" stroke-width="0.9"/>
<rect x="503.6" y="150.7" width="6.6" height="19.9" fill="#46B2F8" stroke="#000" stroke-opacity="0.6" stroke-width="0.9"/>
<rect x="503.6" y="170.6" width="6.6" height="19.9" fill="#1690F8" stroke="#000" stroke-opacity="0.6" stroke-width="0.9"/>
<rect x="503.6" y="190.5" width="6.6" height="18.8" fill="#126EF7" stroke="#000" stroke-opacity="0.6" stroke-width="0.9"/>
<text x="513.6" y="54.3" font-size="10.9" textLength="14.5" lengthAdjust="spacingAndGlyphs">0.6</text>
<text x="513.6" y="74.0" font-size="10.9" textLength="14.5" lengthAdjust="spacingAndGlyphs">0.5</text>
<text x="513.6" y="94.1" font-size="10.9" textLength="14.5" lengthAdjust="spacingAndGlyphs">0.4</text>
<text x="513.6" y="113.8" font-size="10.9" textLength="14.5" lengthAdjust="spacingAndGlyphs">0.3</text>
<text x="513.2" y="134.0" font-size="10.9" textLength="22.5" lengthAdjust="spacing">−0.3</text>
<text x="513.2" y="154.3" font-size="10.9" textLength="22.5" lengthAdjust="spacing">−0.4</text>
<text x="513.2" y="174.2" font-size="10.9" textLength="22.5" lengthAdjust="spacing">−0.5</text>
<text x="513.2" y="194.1" font-size="10.9" textLength="22.5" lengthAdjust="spacing">−0.6</text>
<text x="513.6" y="30.6" font-size="10.4" textLength="21.3" lengthAdjust="spacingAndGlyphs">corr.</text>
<path d="M59.56,318.25h2.1v-9.56h-2.1zM72.73,318.25h2.1v-42.21h-2.1zM76.02,318.25h2.1v-6.05h-2.1zM85.90,318.25h2.1v-39.03h-2.1zM89.19,318.25h2.1v-17.52h-2.1zM95.78,318.25h2.1v-28.99h-2.1zM99.07,318.25h2.1v-50.18h-2.1zM102.36,318.25h2.1v-26.44h-2.1zM105.65,318.25h2.1v-21.51h-2.1zM108.94,318.25h2.1v-0.80h-2.1zM131.99,318.25h2.1v-0.80h-2.1zM135.28,318.25h2.1v-1.27h-2.1zM138.57,318.25h2.1v-12.27h-2.1zM174.79,318.25h2.1v-31.54h-2.1zM178.08,318.25h2.1v-6.53h-2.1zM181.37,318.25h2.1v-9.56h-2.1zM184.66,318.25h2.1v-10.67h-2.1zM187.95,318.25h2.1v-16.57h-2.1zM194.54,318.25h2.1v-0.80h-2.1zM197.83,318.25h2.1v-42.69h-2.1zM201.12,318.25h2.1v-29.79h-2.1zM204.41,318.25h2.1v-22.30h-2.1zM211.00,318.25h2.1v-42.21h-2.1zM214.29,318.25h2.1v-8.28h-2.1zM217.58,318.25h2.1v-3.98h-2.1zM224.17,318.25h2.1v-28.99h-2.1zM227.46,318.25h2.1v-32.34h-2.1zM230.75,318.25h2.1v-5.26h-2.1zM234.04,318.25h2.1v-20.71h-2.1zM237.33,318.25h2.1v-2.71h-2.1zM240.63,318.25h2.1v-14.02h-2.1zM243.92,318.25h2.1v-7.81h-2.1zM247.21,318.25h2.1v-10.20h-2.1zM250.50,318.25h2.1v-3.98h-2.1zM253.79,318.25h2.1v-14.02h-2.1zM257.09,318.25h2.1v-0.80h-2.1zM260.38,318.25h2.1v-1.59h-2.1zM266.96,318.25h2.1v-2.39h-2.1zM273.55,318.25h2.1v-7.81h-2.1zM280.13,318.25h2.1v-3.98h-2.1zM283.42,318.25h2.1v-17.20h-2.1zM286.71,318.25h2.1v-14.81h-2.1zM290.01,318.25h2.1v-40.30h-2.1zM293.30,318.25h2.1v-21.51h-2.1zM296.59,318.25h2.1v-20.23h-2.1zM299.88,318.25h2.1v-13.22h-2.1zM303.17,318.25h2.1v-1.59h-2.1zM306.47,318.25h2.1v-0.80h-2.1zM313.05,318.25h2.1v-6.53h-2.1zM326.22,318.25h2.1v-35.05h-2.1zM329.51,318.25h2.1v-18.32h-2.1zM332.80,318.25h2.1v-11.47h-2.1zM339.39,318.25h2.1v-19.12h-2.1zM342.68,318.25h2.1v-9.08h-2.1zM349.26,318.25h2.1v-28.20h-2.1zM352.55,318.25h2.1v-24.69h-2.1zM365.72,318.25h2.1v-22.30h-2.1zM369.01,318.25h2.1v-5.26h-2.1zM372.31,318.25h2.1v-10.20h-2.1zM375.60,318.25h2.1v-28.99h-2.1zM378.89,318.25h2.1v-45.72h-2.1zM382.18,318.25h2.1v-11.47h-2.1zM385.48,318.25h2.1v-7.81h-2.1zM392.06,318.25h2.1v-6.53h-2.1zM398.64,318.25h2.1v-42.69h-2.1zM408.52,318.25h2.1v-14.02h-2.1zM418.40,318.25h2.1v-7.17h-2.1zM444.73,318.25h2.1v-17.68h-2.1zM448.02,318.25h2.1v-16.57h-2.1zM454.61,318.25h2.1v-13.22h-2.1zM457.90,318.25h2.1v-20.23h-2.1zM461.19,318.25h2.1v-27.24h-2.1zM467.78,318.25h2.1v-0.48h-2.1zM471.07,318.25h2.1v-20.23h-2.1zM474.36,318.25h2.1v-7.81h-2.1zM477.65,318.25h2.1v-0.80h-2.1zM494.11,318.25h2.1v-11.47h-2.1zM497.40,318.25h2.1v-14.81h-2.1z" fill="#FA6F6B"/>
<path d="M46.40,318.25h2.1v28.67h-2.1zM49.69,318.25h2.1v4.30h-2.1zM52.98,318.25h2.1v18.32h-2.1zM56.27,318.25h2.1v1.59h-2.1zM62.86,318.25h2.1v1.59h-2.1zM66.15,318.25h2.1v7.17h-2.1zM69.44,318.25h2.1v9.56h-2.1zM79.32,318.25h2.1v51.77h-2.1zM82.61,318.25h2.1v28.04h-2.1zM92.48,318.25h2.1v16.73h-2.1zM112.24,318.25h2.1v32.98h-2.1zM115.53,318.25h2.1v37.28h-2.1zM118.82,318.25h2.1v53.68h-2.1zM122.11,318.25h2.1v9.56h-2.1zM125.40,318.25h2.1v1.59h-2.1zM128.70,318.25h2.1v6.69h-2.1zM141.86,318.25h2.1v22.94h-2.1zM145.16,318.25h2.1v15.93h-2.1zM148.45,318.25h2.1v40.46h-2.1zM151.74,318.25h2.1v45.56h-2.1zM155.03,318.25h2.1v27.08h-2.1zM158.32,318.25h2.1v38.23h-2.1zM161.62,318.25h2.1v19.12h-2.1zM164.91,318.25h2.1v34.25h-2.1zM168.20,318.25h2.1v29.47h-2.1zM171.49,318.25h2.1v44.60h-2.1zM191.25,318.25h2.1v20.55h-2.1zM207.71,318.25h2.1v6.69h-2.1zM220.87,318.25h2.1v15.13h-2.1zM263.67,318.25h2.1v21.03h-2.1zM270.25,318.25h2.1v27.56h-2.1zM276.84,318.25h2.1v6.05h-2.1zM309.76,318.25h2.1v24.21h-2.1zM316.34,318.25h2.1v14.34h-2.1zM319.63,318.25h2.1v9.56h-2.1zM322.93,318.25h2.1v6.69h-2.1zM336.09,318.25h2.1v13.70h-2.1zM345.97,318.25h2.1v0.80h-2.1zM355.85,318.25h2.1v2.23h-2.1zM359.14,318.25h2.1v28.04h-2.1zM362.43,318.25h2.1v59.26h-2.1zM388.77,318.25h2.1v26.76h-2.1zM395.35,318.25h2.1v4.78h-2.1zM401.94,318.25h2.1v5.58h-2.1zM405.23,318.25h2.1v15.45h-2.1zM411.81,318.25h2.1v13.06h-2.1zM415.10,318.25h2.1v65.31h-2.1zM421.69,318.25h2.1v16.25h-2.1zM424.98,318.25h2.1v9.56h-2.1zM428.27,318.25h2.1v35.52h-2.1zM431.56,318.25h2.1v54.80h-2.1zM434.86,318.25h2.1v19.12h-2.1zM438.15,318.25h2.1v16.73h-2.1zM441.44,318.25h2.1v5.58h-2.1zM451.32,318.25h2.1v36.32h-2.1zM464.48,318.25h2.1v5.58h-2.1zM480.94,318.25h2.1v32.98h-2.1zM484.24,318.25h2.1v26.76h-2.1zM487.53,318.25h2.1v29.31h-2.1zM490.82,318.25h2.1v13.06h-2.1z" fill="#1AA3F4"/>
<path d="M45.85,361.01l3.2,3.2m0,-3.2l-3.2,3.2M49.14,357.60l3.2,3.2m0,-3.2l-3.2,3.2M52.43,349.41l3.2,3.2m0,-3.2l-3.2,3.2M55.72,332.57l3.2,3.2m0,-3.2l-3.2,3.2M59.01,323.47l3.2,3.2m0,-3.2l-3.2,3.2M62.31,328.02l3.2,3.2m0,-3.2l-3.2,3.2M65.60,353.96l3.2,3.2m0,-3.2l-3.2,3.2M68.89,355.32l3.2,3.2m0,-3.2l-3.2,3.2M72.18,341.67l3.2,3.2m0,-3.2l-3.2,3.2M75.47,299.81l3.2,3.2m0,-3.2l-3.2,3.2M78.77,296.86l3.2,3.2m0,-3.2l-3.2,3.2M82.06,304.14l3.2,3.2m0,-3.2l-3.2,3.2M85.35,297.77l3.2,3.2m0,-3.2l-3.2,3.2M88.64,299.81l3.2,3.2m0,-3.2l-3.2,3.2M91.93,306.41l3.2,3.2m0,-3.2l-3.2,3.2M95.23,315.97l3.2,3.2m0,-3.2l-3.2,3.2M98.52,317.56l3.2,3.2m0,-3.2l-3.2,3.2M101.81,318.92l3.2,3.2m0,-3.2l-3.2,3.2M105.10,302.09l3.2,3.2m0,-3.2l-3.2,3.2M108.39,302.32l3.2,3.2m0,-3.2l-3.2,3.2M111.69,307.55l3.2,3.2m0,-3.2l-3.2,3.2M114.98,310.96l3.2,3.2m0,-3.2l-3.2,3.2M118.27,319.61l3.2,3.2m0,-3.2l-3.2,3.2M121.56,325.75l3.2,3.2m0,-3.2l-3.2,3.2M124.85,316.65l3.2,3.2m0,-3.2l-3.2,3.2M128.15,309.82l3.2,3.2m0,-3.2l-3.2,3.2M131.44,316.65l3.2,3.2m0,-3.2l-3.2,3.2M134.73,264.32l3.2,3.2m0,-3.2l-3.2,3.2M138.02,264.78l3.2,3.2m0,-3.2l-3.2,3.2M141.31,271.83l3.2,3.2m0,-3.2l-3.2,3.2M144.61,332.57l3.2,3.2m0,-3.2l-3.2,3.2M147.90,327.11l3.2,3.2m0,-3.2l-3.2,3.2M151.19,316.65l3.2,3.2m0,-3.2l-3.2,3.2M154.48,341.67l3.2,3.2m0,-3.2l-3.2,3.2M157.78,336.67l3.2,3.2m0,-3.2l-3.2,3.2M161.07,328.02l3.2,3.2m0,-3.2l-3.2,3.2M164.36,321.88l3.2,3.2m0,-3.2l-3.2,3.2M167.65,326.43l3.2,3.2m0,-3.2l-3.2,3.2M170.94,328.02l3.2,3.2m0,-3.2l-3.2,3.2M174.24,291.62l3.2,3.2m0,-3.2l-3.2,3.2M177.53,290.03l3.2,3.2m0,-3.2l-3.2,3.2M180.82,288.67l3.2,3.2m0,-3.2l-3.2,3.2M184.11,293.44l3.2,3.2m0,-3.2l-3.2,3.2M187.40,295.95l3.2,3.2m0,-3.2l-3.2,3.2M190.70,308.69l3.2,3.2m0,-3.2l-3.2,3.2M193.99,355.78l3.2,3.2m0,-3.2l-3.2,3.2M197.28,356.92l3.2,3.2m0,-3.2l-3.2,3.2M200.57,346.68l3.2,3.2m0,-3.2l-3.2,3.2M203.86,316.42l3.2,3.2m0,-3.2l-3.2,3.2M207.16,315.06l3.2,3.2m0,-3.2l-3.2,3.2M210.45,311.19l3.2,3.2m0,-3.2l-3.2,3.2M213.74,306.87l3.2,3.2m0,-3.2l-3.2,3.2M217.03,304.36l3.2,3.2m0,-3.2l-3.2,3.2M220.32,307.32l3.2,3.2m0,-3.2l-3.2,3.2M223.62,278.66l3.2,3.2m0,-3.2l-3.2,3.2M226.91,275.47l3.2,3.2m0,-3.2l-3.2,3.2M230.20,276.38l3.2,3.2m0,-3.2l-3.2,3.2M233.49,313.92l3.2,3.2m0,-3.2l-3.2,3.2M236.78,310.73l3.2,3.2m0,-3.2l-3.2,3.2M240.08,305.96l3.2,3.2m0,-3.2l-3.2,3.2M243.37,309.82l3.2,3.2m0,-3.2l-3.2,3.2M246.66,311.19l3.2,3.2m0,-3.2l-3.2,3.2M249.95,311.87l3.2,3.2m0,-3.2l-3.2,3.2M253.24,287.07l3.2,3.2m0,-3.2l-3.2,3.2M256.54,292.53l3.2,3.2m0,-3.2l-3.2,3.2M259.83,298.45l3.2,3.2m0,-3.2l-3.2,3.2M263.12,335.76l3.2,3.2m0,-3.2l-3.2,3.2M266.41,333.94l3.2,3.2m0,-3.2l-3.2,3.2M269.70,333.48l3.2,3.2m0,-3.2l-3.2,3.2M273.00,328.02l3.2,3.2m0,-3.2l-3.2,3.2M276.29,327.34l3.2,3.2m0,-3.2l-3.2,3.2M279.58,323.93l3.2,3.2m0,-3.2l-3.2,3.2M282.87,264.32l3.2,3.2m0,-3.2l-3.2,3.2M286.16,264.32l3.2,3.2m0,-3.2l-3.2,3.2M289.46,271.83l3.2,3.2m0,-3.2l-3.2,3.2M292.75,349.64l3.2,3.2m0,-3.2l-3.2,3.2M296.04,351.00l3.2,3.2m0,-3.2l-3.2,3.2M299.33,343.50l3.2,3.2m0,-3.2l-3.2,3.2M302.62,351.69l3.2,3.2m0,-3.2l-3.2,3.2M305.92,353.96l3.2,3.2m0,-3.2l-3.2,3.2M309.21,348.50l3.2,3.2m0,-3.2l-3.2,3.2M312.50,334.62l3.2,3.2m0,-3.2l-3.2,3.2M315.79,330.98l3.2,3.2m0,-3.2l-3.2,3.2M319.08,328.02l3.2,3.2m0,-3.2l-3.2,3.2M322.38,325.07l3.2,3.2m0,-3.2l-3.2,3.2M325.67,318.92l3.2,3.2m0,-3.2l-3.2,3.2M328.96,316.65l3.2,3.2m0,-3.2l-3.2,3.2M332.25,286.39l3.2,3.2m0,-3.2l-3.2,3.2M335.54,298.45l3.2,3.2m0,-3.2l-3.2,3.2M338.84,300.04l3.2,3.2m0,-3.2l-3.2,3.2M342.13,307.09l3.2,3.2m0,-3.2l-3.2,3.2M345.42,309.37l3.2,3.2m0,-3.2l-3.2,3.2M348.71,310.05l3.2,3.2m0,-3.2l-3.2,3.2M352.00,298.90l3.2,3.2m0,-3.2l-3.2,3.2M355.30,300.72l3.2,3.2m0,-3.2l-3.2,3.2M358.59,305.73l3.2,3.2m0,-3.2l-3.2,3.2M361.88,332.12l3.2,3.2m0,-3.2l-3.2,3.2M365.17,334.17l3.2,3.2m0,-3.2l-3.2,3.2M368.46,328.71l3.2,3.2m0,-3.2l-3.2,3.2M371.76,291.40l3.2,3.2m0,-3.2l-3.2,3.2M375.05,299.59l3.2,3.2m0,-3.2l-3.2,3.2M378.34,310.96l3.2,3.2m0,-3.2l-3.2,3.2M381.63,344.18l3.2,3.2m0,-3.2l-3.2,3.2M384.93,350.32l3.2,3.2m0,-3.2l-3.2,3.2M388.22,349.86l3.2,3.2m0,-3.2l-3.2,3.2M391.51,333.48l3.2,3.2m0,-3.2l-3.2,3.2M394.80,337.35l3.2,3.2m0,-3.2l-3.2,3.2M398.09,332.12l3.2,3.2m0,-3.2l-3.2,3.2M401.39,284.34l3.2,3.2m0,-3.2l-3.2,3.2M404.68,287.76l3.2,3.2m0,-3.2l-3.2,3.2M407.97,291.40l3.2,3.2m0,-3.2l-3.2,3.2M411.26,347.36l3.2,3.2m0,-3.2l-3.2,3.2M414.55,350.32l3.2,3.2m0,-3.2l-3.2,3.2M417.85,340.99l3.2,3.2m0,-3.2l-3.2,3.2M421.14,336.44l3.2,3.2m0,-3.2l-3.2,3.2M424.43,334.17l3.2,3.2m0,-3.2l-3.2,3.2M427.72,330.30l3.2,3.2m0,-3.2l-3.2,3.2M431.01,323.47l3.2,3.2m0,-3.2l-3.2,3.2M434.31,328.94l3.2,3.2m0,-3.2l-3.2,3.2M437.60,328.02l3.2,3.2m0,-3.2l-3.2,3.2M440.89,321.20l3.2,3.2m0,-3.2l-3.2,3.2M444.18,330.98l3.2,3.2m0,-3.2l-3.2,3.2M447.47,333.48l3.2,3.2m0,-3.2l-3.2,3.2M450.77,301.86l3.2,3.2m0,-3.2l-3.2,3.2M454.06,304.36l3.2,3.2m0,-3.2l-3.2,3.2M457.35,309.37l3.2,3.2m0,-3.2l-3.2,3.2M460.64,264.55l3.2,3.2m0,-3.2l-3.2,3.2M463.93,265.69l3.2,3.2m0,-3.2l-3.2,3.2M467.23,271.15l3.2,3.2m0,-3.2l-3.2,3.2M470.52,331.66l3.2,3.2m0,-3.2l-3.2,3.2M473.81,327.57l3.2,3.2m0,-3.2l-3.2,3.2M477.10,322.56l3.2,3.2m0,-3.2l-3.2,3.2M480.39,344.18l3.2,3.2m0,-3.2l-3.2,3.2M483.69,341.45l3.2,3.2m0,-3.2l-3.2,3.2M486.98,336.67l3.2,3.2m0,-3.2l-3.2,3.2M490.27,294.58l3.2,3.2m0,-3.2l-3.2,3.2M493.56,302.09l3.2,3.2m0,-3.2l-3.2,3.2M496.85,303.91l3.2,3.2m0,-3.2l-3.2,3.2" stroke="#A020F0" stroke-width="1.2" fill="none"/>
<g fill="none" stroke="#000" stroke-width="1.2"><circle cx="47.45" cy="316.98" r="1.85"/><circle cx="50.74" cy="310.44" r="1.85"/><circle cx="54.03" cy="321.75" r="1.85"/><circle cx="57.32" cy="305.03" r="1.85"/><circle cx="60.61" cy="288.78" r="1.85"/><circle cx="63.91" cy="310.92" r="1.85"/><circle cx="67.20" cy="293.56" r="1.85"/><circle cx="70.49" cy="313.47" r="1.85"/><circle cx="73.78" cy="287.98" r="1.85"/><circle cx="77.07" cy="346.92" r="1.85"/><circle cx="80.37" cy="374.00" r="1.85"/><circle cx="83.66" cy="345.97" r="1.85"/><circle cx="86.95" cy="318.25" r="1.85"/><circle cx="90.24" cy="319.84" r="1.85"/><circle cx="93.53" cy="362.22" r="1.85"/><circle cx="96.83" cy="330.04" r="1.85"/><circle cx="100.12" cy="350.11" r="1.85"/><circle cx="103.41" cy="325.42" r="1.85"/><circle cx="106.70" cy="294.04" r="1.85"/><circle cx="109.99" cy="347.56" r="1.85"/><circle cx="113.29" cy="329.40" r="1.85"/><circle cx="116.58" cy="316.02" r="1.85"/><circle cx="119.87" cy="316.98" r="1.85"/><circle cx="123.16" cy="319.84" r="1.85"/><circle cx="126.45" cy="334.18" r="1.85"/><circle cx="129.75" cy="329.08" r="1.85"/><circle cx="133.04" cy="299.29" r="1.85"/><circle cx="136.33" cy="299.29" r="1.85"/><circle cx="139.62" cy="293.56" r="1.85"/><circle cx="142.91" cy="343.74" r="1.85"/><circle cx="146.21" cy="312.04" r="1.85"/><circle cx="149.50" cy="300.73" r="1.85"/><circle cx="152.79" cy="320.48" r="1.85"/><circle cx="156.08" cy="308.05" r="1.85"/><circle cx="159.38" cy="359.99" r="1.85"/><circle cx="162.67" cy="338.00" r="1.85"/><circle cx="165.96" cy="346.29" r="1.85"/><circle cx="169.25" cy="324.62" r="1.85"/><circle cx="172.54" cy="361.26" r="1.85"/><circle cx="175.84" cy="314.27" r="1.85"/><circle cx="179.13" cy="333.70" r="1.85"/><circle cx="182.42" cy="339.28" r="1.85"/><circle cx="185.71" cy="324.30" r="1.85"/><circle cx="189.00" cy="311.24" r="1.85"/><circle cx="192.30" cy="332.75" r="1.85"/><circle cx="195.59" cy="288.94" r="1.85"/><circle cx="198.88" cy="266.16" r="1.85"/><circle cx="202.17" cy="263.45" r="1.85"/><circle cx="205.46" cy="326.06" r="1.85"/><circle cx="208.76" cy="299.77" r="1.85"/><circle cx="212.05" cy="261.70" r="1.85"/><circle cx="215.34" cy="295.79" r="1.85"/><circle cx="218.63" cy="304.55" r="1.85"/><circle cx="221.92" cy="330.04" r="1.85"/><circle cx="225.22" cy="290.53" r="1.85"/><circle cx="228.51" cy="307.26" r="1.85"/><circle cx="231.80" cy="298.18" r="1.85"/><circle cx="235.09" cy="290.21" r="1.85"/><circle cx="238.38" cy="260.74" r="1.85"/><circle cx="241.68" cy="312.99" r="1.85"/><circle cx="244.97" cy="317.93" r="1.85"/><circle cx="248.26" cy="320.80" r="1.85"/><circle cx="251.55" cy="330.04" r="1.85"/><circle cx="254.84" cy="302.32" r="1.85"/><circle cx="258.14" cy="319.05" r="1.85"/><circle cx="261.43" cy="293.72" r="1.85"/><circle cx="264.72" cy="350.11" r="1.85"/><circle cx="268.01" cy="335.45" r="1.85"/><circle cx="271.30" cy="313.79" r="1.85"/><circle cx="274.60" cy="343.74" r="1.85"/><circle cx="277.89" cy="323.98" r="1.85"/><circle cx="281.18" cy="286.71" r="1.85"/><circle cx="284.47" cy="317.93" r="1.85"/><circle cx="287.76" cy="350.11" r="1.85"/><circle cx="291.06" cy="319.52" r="1.85"/><circle cx="294.35" cy="295.47" r="1.85"/><circle cx="297.64" cy="315.22" r="1.85"/><circle cx="300.93" cy="309.17" r="1.85"/><circle cx="304.22" cy="299.93" r="1.85"/><circle cx="307.52" cy="297.06" r="1.85"/><circle cx="310.81" cy="299.45" r="1.85"/><circle cx="314.10" cy="354.25" r="1.85"/><circle cx="317.39" cy="332.27" r="1.85"/><circle cx="320.68" cy="327.01" r="1.85"/><circle cx="323.98" cy="338.32" r="1.85"/><circle cx="327.27" cy="295.31" r="1.85"/><circle cx="330.56" cy="296.74" r="1.85"/><circle cx="333.85" cy="342.46" r="1.85"/><circle cx="337.14" cy="324.94" r="1.85"/><circle cx="340.44" cy="315.54" r="1.85"/><circle cx="343.73" cy="312.52" r="1.85"/><circle cx="347.02" cy="344.06" r="1.85"/><circle cx="350.31" cy="341.83" r="1.85"/><circle cx="353.60" cy="298.02" r="1.85"/><circle cx="356.90" cy="312.04" r="1.85"/><circle cx="360.19" cy="337.68" r="1.85"/><circle cx="363.48" cy="351.07" r="1.85"/><circle cx="366.77" cy="320.00" r="1.85"/><circle cx="370.06" cy="319.68" r="1.85"/><circle cx="373.36" cy="281.29" r="1.85"/><circle cx="376.65" cy="284.96" r="1.85"/><circle cx="379.94" cy="338.48" r="1.85"/><circle cx="383.23" cy="304.71" r="1.85"/><circle cx="386.53" cy="304.71" r="1.85"/><circle cx="389.82" cy="303.44" r="1.85"/><circle cx="393.11" cy="307.42" r="1.85"/><circle cx="396.40" cy="305.03" r="1.85"/><circle cx="399.69" cy="328.76" r="1.85"/><circle cx="402.99" cy="372.25" r="1.85"/><circle cx="406.28" cy="359.19" r="1.85"/><circle cx="409.57" cy="385.79" r="1.85"/><circle cx="412.86" cy="359.99" r="1.85"/><circle cx="416.15" cy="345.01" r="1.85"/><circle cx="419.45" cy="293.24" r="1.85"/><circle cx="422.74" cy="283.04" r="1.85"/><circle cx="426.03" cy="321.75" r="1.85"/><circle cx="429.32" cy="319.21" r="1.85"/><circle cx="432.61" cy="346.29" r="1.85"/><circle cx="435.91" cy="327.97" r="1.85"/><circle cx="439.20" cy="334.18" r="1.85"/><circle cx="442.49" cy="294.99" r="1.85"/><circle cx="445.78" cy="333.70" r="1.85"/><circle cx="449.07" cy="317.93" r="1.85"/><circle cx="452.37" cy="312.20" r="1.85"/><circle cx="455.66" cy="301.20" r="1.85"/><circle cx="458.95" cy="302.00" r="1.85"/><circle cx="462.24" cy="295.95" r="1.85"/><circle cx="465.53" cy="341.83" r="1.85"/><circle cx="468.83" cy="319.21" r="1.85"/><circle cx="472.12" cy="290.53" r="1.85"/><circle cx="475.41" cy="304.07" r="1.85"/><circle cx="478.70" cy="313.31" r="1.85"/><circle cx="481.99" cy="320.00" r="1.85"/><circle cx="485.29" cy="323.51" r="1.85"/><circle cx="488.58" cy="317.29" r="1.85"/><circle cx="491.87" cy="317.29" r="1.85"/><circle cx="495.16" cy="330.52" r="1.85"/><circle cx="498.45" cy="301.05" r="1.85"/></g>
<rect x="45.8" y="238.9" width="454.3" height="158.4" fill="none" stroke="#000" stroke-width="1.6"/>
<path d="M41.3,254.5H45.8M41.3,286.4H45.8M41.3,318.2H45.8M41.3,350.1H45.8M41.3,382.0H45.8M65.6,397.3V400.3M114.9,397.3V400.3M164.3,397.3V400.3M213.7,397.3V400.3M263.1,397.3V400.3M312.5,397.3V400.3M361.8,397.3V400.3M411.2,397.3V400.3M460.6,397.3V400.3" stroke="#000" stroke-width="1.3" fill="none"/>
<path d="M500.1,250.0H503.7M500.1,272.8H503.7M500.1,295.5H503.7M500.1,318.2H503.7M500.1,341.0H503.7M500.1,363.8H503.7M500.1,386.5H503.7" stroke="#A020F0" stroke-width="1.3" fill="none"/>
<text x="34.7" y="258.6" font-size="11.4" textLength="5.3" lengthAdjust="spacingAndGlyphs">4</text>
<text x="34.7" y="290.5" font-size="11.4" textLength="5.3" lengthAdjust="spacingAndGlyphs">2</text>
<text x="34.7" y="322.4" font-size="11.4" textLength="5.3" lengthAdjust="spacingAndGlyphs">0</text>
<text x="29.0" y="354.2" font-size="11.4" textLength="11.0" lengthAdjust="spacingAndGlyphs">−2</text>
<text x="29.0" y="386.1" font-size="11.4" textLength="11.0" lengthAdjust="spacingAndGlyphs">−4</text>
<text x="55.3" y="410.0" font-size="11.4" textLength="20.6" lengthAdjust="spacingAndGlyphs">1975</text>
<text x="104.6" y="410.0" font-size="11.4" textLength="20.6" lengthAdjust="spacingAndGlyphs">1980</text>
<text x="154.0" y="410.0" font-size="11.4" textLength="20.6" lengthAdjust="spacingAndGlyphs">1985</text>
<text x="203.4" y="410.0" font-size="11.4" textLength="20.6" lengthAdjust="spacingAndGlyphs">1990</text>
<text x="252.8" y="410.0" font-size="11.4" textLength="20.6" lengthAdjust="spacingAndGlyphs">1995</text>
<text x="302.2" y="410.0" font-size="11.4" textLength="20.6" lengthAdjust="spacingAndGlyphs">2000</text>
<text x="351.5" y="410.0" font-size="11.4" textLength="20.6" lengthAdjust="spacingAndGlyphs">2005</text>
<text x="400.9" y="410.0" font-size="11.4" textLength="20.6" lengthAdjust="spacingAndGlyphs">2010</text>
<text x="450.3" y="410.0" font-size="11.4" textLength="20.6" lengthAdjust="spacingAndGlyphs">2015</text>
<text x="505.6" y="254.0" font-size="11.2" textLength="5.6" lengthAdjust="spacingAndGlyphs" class="p">3</text>
<text x="505.6" y="276.8" font-size="11.2" textLength="5.6" lengthAdjust="spacingAndGlyphs" class="p">2</text>
<text x="505.6" y="299.5" font-size="11.2" textLength="5.6" lengthAdjust="spacingAndGlyphs" class="p">1</text>
<text x="505.6" y="322.2" font-size="11.2" textLength="5.6" lengthAdjust="spacingAndGlyphs" class="p">0</text>
<text x="504.2" y="345.0" font-size="11.2" textLength="12.6" lengthAdjust="spacingAndGlyphs" class="p">−1</text>
<text x="504.2" y="367.8" font-size="11.2" textLength="12.6" lengthAdjust="spacingAndGlyphs" class="p">−2</text>
<text x="504.2" y="390.5" font-size="11.2" textLength="12.6" lengthAdjust="spacingAndGlyphs" class="p">−3</text>
<text x="261.4" y="422.8" font-size="10.4" textLength="23.9" lengthAdjust="spacing">Year</text>
<g transform="translate(22.9,369.6) rotate(-90)">
<text x="0.0" y="0.0" font-size="10.4" textLength="19.8" lengthAdjust="spacingAndGlyphs">SAT</text>
<text x="25.2" y="0.0" font-size="10.4" textLength="19.2" lengthAdjust="spacing">(°C)</text>
<text x="51.6" y="0.0" font-size="10.4" textLength="6.8" lengthAdjust="spacingAndGlyphs">&amp;</text>
<text x="65.9" y="0.0" font-size="10.4" textLength="14.4" lengthAdjust="spacingAndGlyphs">AO</text>
<text x="85.1" y="0.0" font-size="10.4" textLength="17.3" lengthAdjust="spacing">Idx</text>
</g>
<g transform="translate(523.5,296.3) rotate(90)">
<text x="0.0" y="0.0" font-size="10.9" textLength="18.1" lengthAdjust="spacingAndGlyphs" class="p">SST</text>
<text x="25.0" y="0.0" font-size="10.9" textLength="19.5" lengthAdjust="spacing" class="p">(°C)</text>
</g>
<text x="57.0" y="256.6" font-size="13.6" textLength="19.6" lengthAdjust="spacing">(b)</text>
<text x="319.3" y="249.9" font-size="9.0" textLength="18.2" lengthAdjust="spacingAndGlyphs">Corr</text>
<text x="344.4" y="249.9" font-size="9.0" textLength="18.1" lengthAdjust="spacing">btw.</text>
<text x="367.7" y="249.9" font-size="9.0" textLength="26.7" lengthAdjust="spacing">AO(o)</text>
<text x="400.7" y="249.9" font-size="9.0" textLength="6.2" lengthAdjust="spacingAndGlyphs">&amp;</text>
<text x="413.5" y="249.9" font-size="9.0" textLength="15.0" lengthAdjust="spacingAndGlyphs">SAT</text>
<text x="435.4" y="249.9" font-size="9.0" textLength="6.1" lengthAdjust="spacing">=</text>
<text x="448.4" y="249.9" font-size="9.0" textLength="19.0" lengthAdjust="spacing">0.36</text>
<text x="319.3" y="258.9" font-size="9.0" textLength="18.2" lengthAdjust="spacingAndGlyphs">Corr</text>
<text x="344.4" y="258.9" font-size="9.0" textLength="18.1" lengthAdjust="spacing">btw.</text>
<text x="367.7" y="258.9" font-size="9.0" textLength="49.6" lengthAdjust="spacing">Nino3.4(x)</text>
<text x="423.7" y="258.9" font-size="9.0" textLength="6.0" lengthAdjust="spacingAndGlyphs">&amp;</text>
<text x="435.8" y="258.9" font-size="9.0" textLength="15.2" lengthAdjust="spacingAndGlyphs">SAT</text>
<text x="457.9" y="258.9" font-size="9.0" textLength="6.0" lengthAdjust="spacing">=</text>
<text x="470.8" y="258.9" font-size="9.0" textLength="18.2" lengthAdjust="spacing">0.21</text>
</svg></body></html>
